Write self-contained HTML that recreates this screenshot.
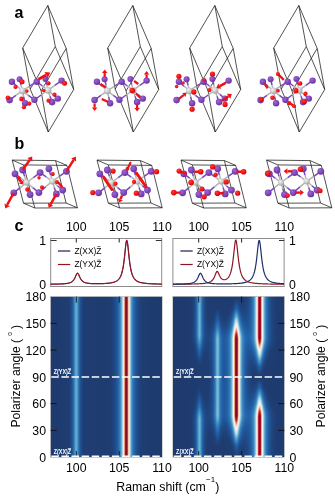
<!DOCTYPE html><html><head><meta charset="utf-8"><style>html,body{margin:0;padding:0;background:#fff;width:335px;height:504px;overflow:hidden}svg{display:block}text{font-family:'Liberation Sans',Arial,sans-serif}</style></head><body><svg width="335" height="504" viewBox="0 0 335 504"><defs><linearGradient id="hl" x1="0" x2="1" y1="0" y2="0"><stop offset="0.0045" stop-color="#1e3a6f"/><stop offset="0.1577" stop-color="#1e3d71"/><stop offset="0.1667" stop-color="#1e3e74"/><stop offset="0.1757" stop-color="#1f437b"/><stop offset="0.1847" stop-color="#1f4a86"/><stop offset="0.1937" stop-color="#205496"/><stop offset="0.2027" stop-color="#2465aa"/><stop offset="0.2117" stop-color="#357eb8"/><stop offset="0.2207" stop-color="#529cc8"/><stop offset="0.2297" stop-color="#6dadd1"/><stop offset="0.2387" stop-color="#559fc9"/><stop offset="0.2477" stop-color="#3680b9"/><stop offset="0.2568" stop-color="#2566ab"/><stop offset="0.2658" stop-color="#205698"/><stop offset="0.2748" stop-color="#1f4b87"/><stop offset="0.2838" stop-color="#1f447d"/><stop offset="0.2928" stop-color="#1e3f76"/><stop offset="0.3018" stop-color="#1e3d72"/><stop offset="0.4820" stop-color="#1e3c70"/><stop offset="0.5360" stop-color="#1e3d72"/><stop offset="0.5631" stop-color="#1f447d"/><stop offset="0.5811" stop-color="#1f4c89"/><stop offset="0.5991" stop-color="#205a9e"/><stop offset="0.6081" stop-color="#2464aa"/><stop offset="0.6171" stop-color="#2e73b2"/><stop offset="0.6261" stop-color="#3c88bd"/><stop offset="0.6351" stop-color="#62a7ce"/><stop offset="0.6441" stop-color="#a6cfe4"/><stop offset="0.6532" stop-color="#edf2f5"/><stop offset="0.6622" stop-color="#f6af8e"/><stop offset="0.6712" stop-color="#a9162a"/><stop offset="0.6802" stop-color="#7e0c24"/><stop offset="0.6892" stop-color="#ba2832"/><stop offset="0.6982" stop-color="#f9c5ab"/><stop offset="0.7072" stop-color="#e2edf3"/><stop offset="0.7162" stop-color="#99c9e0"/><stop offset="0.7252" stop-color="#57a0ca"/><stop offset="0.7342" stop-color="#3883bb"/><stop offset="0.7432" stop-color="#2b70b0"/><stop offset="0.7523" stop-color="#2262a9"/><stop offset="0.7703" stop-color="#205190"/><stop offset="0.7883" stop-color="#1f4781"/><stop offset="0.8153" stop-color="#1e3e74"/><stop offset="0.8964" stop-color="#1e3b70"/><stop offset="0.9955" stop-color="#1e3b6f"/></linearGradient><linearGradient id="r14" x1="0" x2="0" y1="0" y2="1"><stop offset="0.003" stop-color="#1e3b70"/><stop offset="0.997" stop-color="#1e3b70"/></linearGradient><linearGradient id="r15" x1="0" x2="0" y1="0" y2="1"><stop offset="0.003" stop-color="#1e3b70"/><stop offset="0.722" stop-color="#1e3c70"/><stop offset="0.997" stop-color="#1e3b70"/></linearGradient><linearGradient id="r16" x1="0" x2="0" y1="0" y2="1"><stop offset="0.003" stop-color="#1e3c70"/><stop offset="0.697" stop-color="#1e3c70"/><stop offset="0.997" stop-color="#1e3c70"/></linearGradient><linearGradient id="r17" x1="0" x2="0" y1="0" y2="1"><stop offset="0.003" stop-color="#1e3c71"/><stop offset="0.366" stop-color="#1e3b70"/><stop offset="0.734" stop-color="#1e3c71"/><stop offset="0.997" stop-color="#1e3c71"/></linearGradient><linearGradient id="r18" x1="0" x2="0" y1="0" y2="1"><stop offset="0.003" stop-color="#1e3d71"/><stop offset="0.278" stop-color="#1e3d72"/><stop offset="0.609" stop-color="#1e3b6f"/><stop offset="0.797" stop-color="#1e3d72"/><stop offset="0.997" stop-color="#1e3d71"/></linearGradient><linearGradient id="r19" x1="0" x2="0" y1="0" y2="1"><stop offset="0.003" stop-color="#1e3e74"/><stop offset="0.253" stop-color="#1e4077"/><stop offset="0.309" stop-color="#1e3c71"/><stop offset="0.616" stop-color="#1e3b70"/><stop offset="0.722" stop-color="#1e3e73"/><stop offset="0.772" stop-color="#1e4178"/><stop offset="0.997" stop-color="#1e3e74"/></linearGradient><linearGradient id="r20" x1="0" x2="0" y1="0" y2="1"><stop offset="0.003" stop-color="#1f437b"/><stop offset="0.247" stop-color="#1f467f"/><stop offset="0.322" stop-color="#1e3d72"/><stop offset="0.597" stop-color="#1e3b70"/><stop offset="0.697" stop-color="#1e3e73"/><stop offset="0.753" stop-color="#1f457f"/><stop offset="0.997" stop-color="#1f437b"/></linearGradient><linearGradient id="r21" x1="0" x2="0" y1="0" y2="1"><stop offset="0.003" stop-color="#1f4a86"/><stop offset="0.247" stop-color="#1f4d8a"/><stop offset="0.284" stop-color="#1f4680"/><stop offset="0.341" stop-color="#1e3d72"/><stop offset="0.578" stop-color="#1e3b70"/><stop offset="0.672" stop-color="#1e3e73"/><stop offset="0.753" stop-color="#1f4c89"/><stop offset="0.791" stop-color="#1f4d8a"/><stop offset="0.997" stop-color="#1f4a86"/></linearGradient><linearGradient id="r22" x1="0" x2="0" y1="0" y2="1"><stop offset="0.003" stop-color="#205597"/><stop offset="0.241" stop-color="#20589c"/><stop offset="0.272" stop-color="#205293"/><stop offset="0.334" stop-color="#1e427a"/><stop offset="0.372" stop-color="#1e3d72"/><stop offset="0.572" stop-color="#1e3b70"/><stop offset="0.641" stop-color="#1e3e73"/><stop offset="0.697" stop-color="#1f4984"/><stop offset="0.747" stop-color="#205698"/><stop offset="0.772" stop-color="#20589c"/><stop offset="0.997" stop-color="#205597"/></linearGradient><linearGradient id="r23" x1="0" x2="0" y1="0" y2="1"><stop offset="0.003" stop-color="#2566ab"/><stop offset="0.241" stop-color="#2769ad"/><stop offset="0.272" stop-color="#2261a8"/><stop offset="0.328" stop-color="#1f4b88"/><stop offset="0.391" stop-color="#1e3d72"/><stop offset="0.547" stop-color="#1e3b70"/><stop offset="0.616" stop-color="#1e3e73"/><stop offset="0.684" stop-color="#1f4e8c"/><stop offset="0.734" stop-color="#2262a9"/><stop offset="0.766" stop-color="#276aad"/><stop offset="0.997" stop-color="#2566ab"/></linearGradient><linearGradient id="r24" x1="0" x2="0" y1="0" y2="1"><stop offset="0.003" stop-color="#3680b9"/><stop offset="0.241" stop-color="#3983bb"/><stop offset="0.272" stop-color="#3077b4"/><stop offset="0.309" stop-color="#2160a8"/><stop offset="0.334" stop-color="#205597"/><stop offset="0.384" stop-color="#1f447d"/><stop offset="0.416" stop-color="#1e3d72"/><stop offset="0.541" stop-color="#1e3c70"/><stop offset="0.591" stop-color="#1e3d72"/><stop offset="0.641" stop-color="#1f4b87"/><stop offset="0.684" stop-color="#215ba0"/><stop offset="0.697" stop-color="#2262a9"/><stop offset="0.741" stop-color="#337bb7"/><stop offset="0.766" stop-color="#3984bb"/><stop offset="0.997" stop-color="#3680b9"/></linearGradient><linearGradient id="r25" x1="0" x2="0" y1="0" y2="1"><stop offset="0.003" stop-color="#559ec9"/><stop offset="0.222" stop-color="#5ba2cb"/><stop offset="0.241" stop-color="#5ba2cb"/><stop offset="0.272" stop-color="#4291c2"/><stop offset="0.309" stop-color="#2d72b1"/><stop offset="0.334" stop-color="#2262a9"/><stop offset="0.384" stop-color="#1f4b87"/><stop offset="0.422" stop-color="#1e3e73"/><stop offset="0.522" stop-color="#1e3c70"/><stop offset="0.578" stop-color="#1e3d72"/><stop offset="0.634" stop-color="#205191"/><stop offset="0.666" stop-color="#2160a8"/><stop offset="0.691" stop-color="#2b6fb0"/><stop offset="0.728" stop-color="#408ec0"/><stop offset="0.741" stop-color="#4a97c5"/><stop offset="0.766" stop-color="#5ca3cb"/><stop offset="0.972" stop-color="#559ec9"/><stop offset="0.997" stop-color="#559ec9"/></linearGradient><linearGradient id="r26" x1="0" x2="0" y1="0" y2="1"><stop offset="0.003" stop-color="#6cadd1"/><stop offset="0.216" stop-color="#72b1d3"/><stop offset="0.241" stop-color="#73b1d3"/><stop offset="0.266" stop-color="#5ca3cc"/><stop offset="0.284" stop-color="#4291c2"/><stop offset="0.328" stop-color="#296cae"/><stop offset="0.353" stop-color="#215ea5"/><stop offset="0.378" stop-color="#205191"/><stop offset="0.422" stop-color="#1e3f76"/><stop offset="0.447" stop-color="#1e3d72"/><stop offset="0.528" stop-color="#1e3c70"/><stop offset="0.578" stop-color="#1e3e74"/><stop offset="0.634" stop-color="#205598"/><stop offset="0.653" stop-color="#2160a8"/><stop offset="0.684" stop-color="#2d73b2"/><stop offset="0.722" stop-color="#4594c4"/><stop offset="0.734" stop-color="#59a1ca"/><stop offset="0.759" stop-color="#70afd2"/><stop offset="0.766" stop-color="#73b2d4"/><stop offset="0.966" stop-color="#6cadd1"/><stop offset="0.997" stop-color="#6cadd1"/></linearGradient><linearGradient id="r27" x1="0" x2="0" y1="0" y2="1"><stop offset="0.003" stop-color="#519cc8"/><stop offset="0.209" stop-color="#57a0ca"/><stop offset="0.241" stop-color="#58a0ca"/><stop offset="0.272" stop-color="#4190c1"/><stop offset="0.309" stop-color="#2c71b1"/><stop offset="0.334" stop-color="#2262a9"/><stop offset="0.384" stop-color="#1f4b88"/><stop offset="0.428" stop-color="#1e3d72"/><stop offset="0.534" stop-color="#1e3c71"/><stop offset="0.578" stop-color="#1e3d73"/><stop offset="0.634" stop-color="#205191"/><stop offset="0.666" stop-color="#2160a8"/><stop offset="0.691" stop-color="#2b6fb0"/><stop offset="0.728" stop-color="#3f8dc0"/><stop offset="0.747" stop-color="#4d99c6"/><stop offset="0.766" stop-color="#59a1ca"/><stop offset="0.959" stop-color="#519cc8"/><stop offset="0.997" stop-color="#519cc8"/></linearGradient><linearGradient id="r28" x1="0" x2="0" y1="0" y2="1"><stop offset="0.003" stop-color="#347db7"/><stop offset="0.241" stop-color="#3882ba"/><stop offset="0.272" stop-color="#3076b4"/><stop offset="0.309" stop-color="#2160a8"/><stop offset="0.334" stop-color="#205598"/><stop offset="0.384" stop-color="#1f457f"/><stop offset="0.422" stop-color="#1e3d72"/><stop offset="0.553" stop-color="#1e3c71"/><stop offset="0.591" stop-color="#1e3e74"/><stop offset="0.641" stop-color="#1f4c89"/><stop offset="0.684" stop-color="#215ca1"/><stop offset="0.697" stop-color="#2262a9"/><stop offset="0.741" stop-color="#337bb6"/><stop offset="0.766" stop-color="#3883ba"/><stop offset="0.997" stop-color="#347db7"/></linearGradient><linearGradient id="r29" x1="0" x2="0" y1="0" y2="1"><stop offset="0.003" stop-color="#2464aa"/><stop offset="0.228" stop-color="#286aad"/><stop offset="0.247" stop-color="#2769ad"/><stop offset="0.278" stop-color="#215fa7"/><stop offset="0.328" stop-color="#1f4d8b"/><stop offset="0.397" stop-color="#1e3e74"/><stop offset="0.441" stop-color="#1e3c71"/><stop offset="0.597" stop-color="#1e3d72"/><stop offset="0.653" stop-color="#1f4883"/><stop offset="0.691" stop-color="#205293"/><stop offset="0.728" stop-color="#2261a8"/><stop offset="0.766" stop-color="#286aad"/><stop offset="0.991" stop-color="#2464aa"/><stop offset="0.997" stop-color="#2464aa"/></linearGradient><linearGradient id="r30" x1="0" x2="0" y1="0" y2="1"><stop offset="0.003" stop-color="#205495"/><stop offset="0.184" stop-color="#20589b"/><stop offset="0.241" stop-color="#215ba0"/><stop offset="0.272" stop-color="#205598"/><stop offset="0.334" stop-color="#1f467f"/><stop offset="0.391" stop-color="#1e3d72"/><stop offset="0.584" stop-color="#1e3c71"/><stop offset="0.628" stop-color="#1e3f75"/><stop offset="0.691" stop-color="#1f4a86"/><stop offset="0.741" stop-color="#20589b"/><stop offset="0.772" stop-color="#215a9f"/><stop offset="0.934" stop-color="#205496"/><stop offset="0.997" stop-color="#205495"/></linearGradient><linearGradient id="r31" x1="0" x2="0" y1="0" y2="1"><stop offset="0.003" stop-color="#1f4a85"/><stop offset="0.178" stop-color="#1f4e8c"/><stop offset="0.247" stop-color="#205190"/><stop offset="0.278" stop-color="#1f4c8a"/><stop offset="0.341" stop-color="#1e4179"/><stop offset="0.391" stop-color="#1e3d72"/><stop offset="0.616" stop-color="#1e3d72"/><stop offset="0.684" stop-color="#1f447d"/><stop offset="0.747" stop-color="#20508f"/><stop offset="0.772" stop-color="#205190"/><stop offset="0.922" stop-color="#1f4a87"/><stop offset="0.997" stop-color="#1f4a85"/></linearGradient><linearGradient id="r32" x1="0" x2="0" y1="0" y2="1"><stop offset="0.003" stop-color="#1f437b"/><stop offset="0.159" stop-color="#1f4781"/><stop offset="0.247" stop-color="#1f4b88"/><stop offset="0.284" stop-color="#1f4781"/><stop offset="0.359" stop-color="#1e3e74"/><stop offset="0.528" stop-color="#1e3c71"/><stop offset="0.641" stop-color="#1e3e73"/><stop offset="0.716" stop-color="#1f4681"/><stop offset="0.753" stop-color="#1f4b87"/><stop offset="0.809" stop-color="#1f4883"/><stop offset="0.966" stop-color="#1f437c"/><stop offset="0.997" stop-color="#1f437b"/></linearGradient><linearGradient id="r33" x1="0" x2="0" y1="0" y2="1"><stop offset="0.003" stop-color="#1e3e74"/><stop offset="0.147" stop-color="#1e427a"/><stop offset="0.247" stop-color="#1f4883"/><stop offset="0.284" stop-color="#1f457e"/><stop offset="0.372" stop-color="#1e3d72"/><stop offset="0.634" stop-color="#1e3d72"/><stop offset="0.728" stop-color="#1f4680"/><stop offset="0.772" stop-color="#1f4882"/><stop offset="0.891" stop-color="#1e4177"/><stop offset="0.997" stop-color="#1e3e74"/></linearGradient><linearGradient id="r34" x1="0" x2="0" y1="0" y2="1"><stop offset="0.003" stop-color="#1e3d72"/><stop offset="0.128" stop-color="#1e3e74"/><stop offset="0.253" stop-color="#1f4680"/><stop offset="0.391" stop-color="#1e3d72"/><stop offset="0.628" stop-color="#1e3e73"/><stop offset="0.753" stop-color="#1f4680"/><stop offset="0.903" stop-color="#1e3d72"/><stop offset="0.997" stop-color="#1e3d72"/></linearGradient><linearGradient id="r35" x1="0" x2="0" y1="0" y2="1"><stop offset="0.003" stop-color="#1e3c71"/><stop offset="0.153" stop-color="#1e3e74"/><stop offset="0.253" stop-color="#1f4680"/><stop offset="0.422" stop-color="#1e3e73"/><stop offset="0.597" stop-color="#1e3e74"/><stop offset="0.722" stop-color="#1f457e"/><stop offset="0.759" stop-color="#1f4680"/><stop offset="0.872" stop-color="#1e3d72"/><stop offset="0.997" stop-color="#1e3c71"/></linearGradient><linearGradient id="r36" x1="0" x2="0" y1="0" y2="1"><stop offset="0.003" stop-color="#1e3c71"/><stop offset="0.159" stop-color="#1e3e74"/><stop offset="0.253" stop-color="#1f4782"/><stop offset="0.441" stop-color="#1e4076"/><stop offset="0.597" stop-color="#1e4077"/><stop offset="0.747" stop-color="#1f4782"/><stop offset="0.803" stop-color="#1e4279"/><stop offset="0.872" stop-color="#1e3d72"/><stop offset="0.997" stop-color="#1e3c71"/></linearGradient><linearGradient id="r37" x1="0" x2="0" y1="0" y2="1"><stop offset="0.003" stop-color="#1e3c70"/><stop offset="0.159" stop-color="#1e3e74"/><stop offset="0.253" stop-color="#1f4a85"/><stop offset="0.453" stop-color="#1f437b"/><stop offset="0.628" stop-color="#1f457e"/><stop offset="0.747" stop-color="#1f4a86"/><stop offset="0.791" stop-color="#1f457e"/><stop offset="0.859" stop-color="#1e3d72"/><stop offset="0.997" stop-color="#1e3c70"/></linearGradient><linearGradient id="r38" x1="0" x2="0" y1="0" y2="1"><stop offset="0.003" stop-color="#1e3b70"/><stop offset="0.147" stop-color="#1e3e73"/><stop offset="0.209" stop-color="#1f4781"/><stop offset="0.247" stop-color="#1f4d8b"/><stop offset="0.278" stop-color="#1f4e8c"/><stop offset="0.447" stop-color="#1f4883"/><stop offset="0.634" stop-color="#1f4a86"/><stop offset="0.747" stop-color="#1f4e8c"/><stop offset="0.784" stop-color="#1f4884"/><stop offset="0.847" stop-color="#1e3f75"/><stop offset="0.891" stop-color="#1e3c71"/><stop offset="0.997" stop-color="#1e3b70"/></linearGradient><linearGradient id="r39" x1="0" x2="0" y1="0" y2="1"><stop offset="0.003" stop-color="#1e3b70"/><stop offset="0.134" stop-color="#1e3e73"/><stop offset="0.197" stop-color="#1f4883"/><stop offset="0.241" stop-color="#205293"/><stop offset="0.266" stop-color="#205597"/><stop offset="0.447" stop-color="#204f8e"/><stop offset="0.641" stop-color="#205191"/><stop offset="0.747" stop-color="#205496"/><stop offset="0.778" stop-color="#204f8d"/><stop offset="0.834" stop-color="#1e437b"/><stop offset="0.878" stop-color="#1e3d72"/><stop offset="0.997" stop-color="#1e3b70"/></linearGradient><linearGradient id="r40" x1="0" x2="0" y1="0" y2="1"><stop offset="0.003" stop-color="#1e3b70"/><stop offset="0.116" stop-color="#1e3d72"/><stop offset="0.184" stop-color="#1f4a87"/><stop offset="0.241" stop-color="#215ca1"/><stop offset="0.266" stop-color="#215fa7"/><stop offset="0.459" stop-color="#215a9f"/><stop offset="0.659" stop-color="#215ca2"/><stop offset="0.741" stop-color="#215fa7"/><stop offset="0.772" stop-color="#20599e"/><stop offset="0.828" stop-color="#1f4883"/><stop offset="0.891" stop-color="#1e3d72"/><stop offset="0.997" stop-color="#1e3b70"/></linearGradient><linearGradient id="r41" x1="0" x2="0" y1="0" y2="1"><stop offset="0.003" stop-color="#1e3b70"/><stop offset="0.103" stop-color="#1e3e73"/><stop offset="0.153" stop-color="#1f4985"/><stop offset="0.184" stop-color="#205393"/><stop offset="0.216" stop-color="#2160a7"/><stop offset="0.241" stop-color="#286bae"/><stop offset="0.266" stop-color="#2c70b1"/><stop offset="0.516" stop-color="#296bae"/><stop offset="0.741" stop-color="#2c70b1"/><stop offset="0.778" stop-color="#2464aa"/><stop offset="0.797" stop-color="#215ba1"/><stop offset="0.834" stop-color="#1f4e8c"/><stop offset="0.897" stop-color="#1e3e74"/><stop offset="0.941" stop-color="#1e3c71"/><stop offset="0.997" stop-color="#1e3b70"/></linearGradient><linearGradient id="r42" x1="0" x2="0" y1="0" y2="1"><stop offset="0.003" stop-color="#1e3b6f"/><stop offset="0.084" stop-color="#1e3d72"/><stop offset="0.134" stop-color="#1f4b88"/><stop offset="0.178" stop-color="#215ca1"/><stop offset="0.191" stop-color="#2363aa"/><stop offset="0.241" stop-color="#3782ba"/><stop offset="0.266" stop-color="#3d8abe"/><stop offset="0.528" stop-color="#3a85bc"/><stop offset="0.741" stop-color="#3d8abe"/><stop offset="0.772" stop-color="#347db7"/><stop offset="0.816" stop-color="#2261a9"/><stop offset="0.878" stop-color="#1f4883"/><stop offset="0.922" stop-color="#1e3d72"/><stop offset="0.997" stop-color="#1e3b70"/></linearGradient><linearGradient id="r43" x1="0" x2="0" y1="0" y2="1"><stop offset="0.003" stop-color="#1e3b6f"/><stop offset="0.078" stop-color="#1e3d73"/><stop offset="0.134" stop-color="#205395"/><stop offset="0.159" stop-color="#2160a8"/><stop offset="0.184" stop-color="#2b6fb0"/><stop offset="0.222" stop-color="#408fc1"/><stop offset="0.228" stop-color="#4695c4"/><stop offset="0.234" stop-color="#4f9ac7"/><stop offset="0.259" stop-color="#64a8ce"/><stop offset="0.272" stop-color="#66a9cf"/><stop offset="0.484" stop-color="#5fa5cd"/><stop offset="0.697" stop-color="#64a8ce"/><stop offset="0.741" stop-color="#66a9cf"/><stop offset="0.766" stop-color="#519cc8"/><stop offset="0.778" stop-color="#4292c2"/><stop offset="0.816" stop-color="#2d72b1"/><stop offset="0.847" stop-color="#215fa6"/><stop offset="0.884" stop-color="#1f4d8a"/><stop offset="0.928" stop-color="#1e3d72"/><stop offset="0.997" stop-color="#1e3b70"/></linearGradient><linearGradient id="r44" x1="0" x2="0" y1="0" y2="1"><stop offset="0.003" stop-color="#1e3b6f"/><stop offset="0.072" stop-color="#1e3e73"/><stop offset="0.084" stop-color="#1e4279"/><stop offset="0.134" stop-color="#20589c"/><stop offset="0.147" stop-color="#2160a7"/><stop offset="0.178" stop-color="#2d72b2"/><stop offset="0.209" stop-color="#408fc1"/><stop offset="0.216" stop-color="#4795c4"/><stop offset="0.234" stop-color="#67aacf"/><stop offset="0.259" stop-color="#7fb9d8"/><stop offset="0.272" stop-color="#81bad8"/><stop offset="0.491" stop-color="#7bb6d6"/><stop offset="0.709" stop-color="#80bad8"/><stop offset="0.741" stop-color="#82bbd8"/><stop offset="0.766" stop-color="#6aacd0"/><stop offset="0.778" stop-color="#579fca"/><stop offset="0.791" stop-color="#4292c2"/><stop offset="0.828" stop-color="#2c71b1"/><stop offset="0.853" stop-color="#2261a9"/><stop offset="0.891" stop-color="#1f4e8c"/><stop offset="0.928" stop-color="#1e3e74"/><stop offset="0.997" stop-color="#1e3b70"/></linearGradient><linearGradient id="r45" x1="0" x2="0" y1="0" y2="1"><stop offset="0.003" stop-color="#1e3b6f"/><stop offset="0.078" stop-color="#1e3d73"/><stop offset="0.134" stop-color="#205496"/><stop offset="0.159" stop-color="#2261a9"/><stop offset="0.184" stop-color="#2c70b1"/><stop offset="0.222" stop-color="#4291c2"/><stop offset="0.234" stop-color="#539dc8"/><stop offset="0.259" stop-color="#69abd0"/><stop offset="0.272" stop-color="#6aacd0"/><stop offset="0.497" stop-color="#64a8ce"/><stop offset="0.716" stop-color="#6aabd0"/><stop offset="0.741" stop-color="#6bacd1"/><stop offset="0.766" stop-color="#559fc9"/><stop offset="0.778" stop-color="#4494c3"/><stop offset="0.809" stop-color="#3178b5"/><stop offset="0.834" stop-color="#2566ab"/><stop offset="0.847" stop-color="#2160a7"/><stop offset="0.884" stop-color="#1f4d8b"/><stop offset="0.928" stop-color="#1e3d72"/><stop offset="0.997" stop-color="#1e3b6f"/></linearGradient><linearGradient id="r46" x1="0" x2="0" y1="0" y2="1"><stop offset="0.003" stop-color="#1e3b6f"/><stop offset="0.084" stop-color="#1e3d72"/><stop offset="0.134" stop-color="#1f4c89"/><stop offset="0.184" stop-color="#2261a9"/><stop offset="0.228" stop-color="#357fb8"/><stop offset="0.253" stop-color="#3e8bbf"/><stop offset="0.272" stop-color="#408fc1"/><stop offset="0.553" stop-color="#3e8bbf"/><stop offset="0.741" stop-color="#408fc1"/><stop offset="0.772" stop-color="#3781ba"/><stop offset="0.816" stop-color="#2363aa"/><stop offset="0.834" stop-color="#205a9e"/><stop offset="0.884" stop-color="#1f4781"/><stop offset="0.922" stop-color="#1e3d72"/><stop offset="0.997" stop-color="#1e3b6f"/></linearGradient><linearGradient id="r47" x1="0" x2="0" y1="0" y2="1"><stop offset="0.003" stop-color="#1e3b6f"/><stop offset="0.097" stop-color="#1e3d72"/><stop offset="0.141" stop-color="#1f4782"/><stop offset="0.184" stop-color="#205598"/><stop offset="0.209" stop-color="#2161a8"/><stop offset="0.241" stop-color="#2c70b1"/><stop offset="0.266" stop-color="#3077b4"/><stop offset="0.547" stop-color="#2e73b2"/><stop offset="0.741" stop-color="#3077b4"/><stop offset="0.772" stop-color="#296daf"/><stop offset="0.797" stop-color="#215fa7"/><stop offset="0.834" stop-color="#20508f"/><stop offset="0.891" stop-color="#1e4077"/><stop offset="0.909" stop-color="#1e3d72"/><stop offset="0.997" stop-color="#1e3b6f"/></linearGradient><linearGradient id="r48" x1="0" x2="0" y1="0" y2="1"><stop offset="0.003" stop-color="#1e3b6f"/><stop offset="0.116" stop-color="#1e3e73"/><stop offset="0.184" stop-color="#1f4e8c"/><stop offset="0.234" stop-color="#2261a9"/><stop offset="0.266" stop-color="#2668ac"/><stop offset="0.553" stop-color="#2464aa"/><stop offset="0.747" stop-color="#2667ac"/><stop offset="0.772" stop-color="#2160a8"/><stop offset="0.822" stop-color="#1f4d8a"/><stop offset="0.891" stop-color="#1e3d72"/><stop offset="0.997" stop-color="#1e3b6f"/></linearGradient><linearGradient id="r49" x1="0" x2="0" y1="0" y2="1"><stop offset="0.003" stop-color="#1e3b6f"/><stop offset="0.128" stop-color="#1e3e73"/><stop offset="0.184" stop-color="#1f4a85"/><stop offset="0.241" stop-color="#215ba1"/><stop offset="0.266" stop-color="#2160a7"/><stop offset="0.497" stop-color="#215ca1"/><stop offset="0.728" stop-color="#215fa7"/><stop offset="0.747" stop-color="#215fa6"/><stop offset="0.778" stop-color="#20579a"/><stop offset="0.834" stop-color="#1f4680"/><stop offset="0.884" stop-color="#1e3d72"/><stop offset="0.997" stop-color="#1e3b6f"/></linearGradient><linearGradient id="r50" x1="0" x2="0" y1="0" y2="1"><stop offset="0.003" stop-color="#1e3b6f"/><stop offset="0.134" stop-color="#1e3e73"/><stop offset="0.191" stop-color="#1f4985"/><stop offset="0.241" stop-color="#20589b"/><stop offset="0.266" stop-color="#215ca1"/><stop offset="0.497" stop-color="#20589b"/><stop offset="0.728" stop-color="#215ba1"/><stop offset="0.747" stop-color="#215ba0"/><stop offset="0.778" stop-color="#205395"/><stop offset="0.834" stop-color="#1f447d"/><stop offset="0.878" stop-color="#1e3d72"/><stop offset="0.997" stop-color="#1e3b6f"/></linearGradient><linearGradient id="r51" x1="0" x2="0" y1="0" y2="1"><stop offset="0.003" stop-color="#1e3b6f"/><stop offset="0.134" stop-color="#1e3e73"/><stop offset="0.191" stop-color="#1f4984"/><stop offset="0.241" stop-color="#20579a"/><stop offset="0.266" stop-color="#215ba0"/><stop offset="0.497" stop-color="#20579a"/><stop offset="0.722" stop-color="#215a9f"/><stop offset="0.747" stop-color="#205a9e"/><stop offset="0.778" stop-color="#205393"/><stop offset="0.834" stop-color="#1f447c"/><stop offset="0.878" stop-color="#1e3d72"/><stop offset="0.997" stop-color="#1e3b6f"/></linearGradient><linearGradient id="r52" x1="0" x2="0" y1="0" y2="1"><stop offset="0.003" stop-color="#1e3b6f"/><stop offset="0.128" stop-color="#1e3d72"/><stop offset="0.191" stop-color="#1f4a85"/><stop offset="0.241" stop-color="#20589c"/><stop offset="0.266" stop-color="#215ca2"/><stop offset="0.497" stop-color="#20589c"/><stop offset="0.716" stop-color="#215ba1"/><stop offset="0.747" stop-color="#215ba1"/><stop offset="0.778" stop-color="#205495"/><stop offset="0.834" stop-color="#1f447d"/><stop offset="0.878" stop-color="#1e3d72"/><stop offset="0.997" stop-color="#1e3b6f"/></linearGradient><linearGradient id="r53" x1="0" x2="0" y1="0" y2="1"><stop offset="0.003" stop-color="#1e3b6f"/><stop offset="0.128" stop-color="#1e3e73"/><stop offset="0.184" stop-color="#1f4a86"/><stop offset="0.241" stop-color="#215ca1"/><stop offset="0.266" stop-color="#2160a8"/><stop offset="0.491" stop-color="#215ca1"/><stop offset="0.709" stop-color="#215fa6"/><stop offset="0.741" stop-color="#2160a8"/><stop offset="0.772" stop-color="#20599d"/><stop offset="0.828" stop-color="#1f4782"/><stop offset="0.884" stop-color="#1e3d72"/><stop offset="0.997" stop-color="#1e3b6f"/></linearGradient><linearGradient id="r54" x1="0" x2="0" y1="0" y2="1"><stop offset="0.003" stop-color="#1e3b6f"/><stop offset="0.116" stop-color="#1e3d73"/><stop offset="0.184" stop-color="#1f4d8b"/><stop offset="0.234" stop-color="#2160a7"/><stop offset="0.266" stop-color="#2566ab"/><stop offset="0.541" stop-color="#2262a9"/><stop offset="0.747" stop-color="#2465ab"/><stop offset="0.772" stop-color="#215ea5"/><stop offset="0.822" stop-color="#1f4c89"/><stop offset="0.891" stop-color="#1e3d72"/><stop offset="0.997" stop-color="#1e3b6f"/></linearGradient><linearGradient id="r55" x1="0" x2="0" y1="0" y2="1"><stop offset="0.003" stop-color="#1e3b6f"/><stop offset="0.103" stop-color="#1e3d72"/><stop offset="0.153" stop-color="#1f4984"/><stop offset="0.184" stop-color="#205292"/><stop offset="0.222" stop-color="#2262a9"/><stop offset="0.247" stop-color="#296cae"/><stop offset="0.266" stop-color="#2b70b0"/><stop offset="0.534" stop-color="#286bae"/><stop offset="0.741" stop-color="#2b70b0"/><stop offset="0.778" stop-color="#2363aa"/><stop offset="0.791" stop-color="#215da4"/><stop offset="0.834" stop-color="#1f4d8a"/><stop offset="0.897" stop-color="#1e3e73"/><stop offset="0.997" stop-color="#1e3b6f"/></linearGradient><linearGradient id="r56" x1="0" x2="0" y1="0" y2="1"><stop offset="0.003" stop-color="#1e3b6f"/><stop offset="0.091" stop-color="#1e3d72"/><stop offset="0.141" stop-color="#1f4a86"/><stop offset="0.184" stop-color="#20599d"/><stop offset="0.203" stop-color="#2262a9"/><stop offset="0.241" stop-color="#3077b4"/><stop offset="0.266" stop-color="#357eb8"/><stop offset="0.528" stop-color="#3279b5"/><stop offset="0.741" stop-color="#357eb8"/><stop offset="0.772" stop-color="#2d72b2"/><stop offset="0.803" stop-color="#2161a8"/><stop offset="0.834" stop-color="#205394"/><stop offset="0.891" stop-color="#1e427a"/><stop offset="0.916" stop-color="#1e3d72"/><stop offset="0.997" stop-color="#1e3b6f"/></linearGradient><linearGradient id="r57" x1="0" x2="0" y1="0" y2="1"><stop offset="0.003" stop-color="#1e3b6f"/><stop offset="0.084" stop-color="#1e3e73"/><stop offset="0.134" stop-color="#1f4d8b"/><stop offset="0.178" stop-color="#2160a7"/><stop offset="0.228" stop-color="#3782ba"/><stop offset="0.253" stop-color="#408fc1"/><stop offset="0.266" stop-color="#4393c3"/><stop offset="0.522" stop-color="#3f8ec0"/><stop offset="0.741" stop-color="#4393c3"/><stop offset="0.772" stop-color="#3984bb"/><stop offset="0.809" stop-color="#276aad"/><stop offset="0.828" stop-color="#215ea5"/><stop offset="0.884" stop-color="#1f4883"/><stop offset="0.922" stop-color="#1e3d72"/><stop offset="0.997" stop-color="#1e3b70"/></linearGradient><linearGradient id="r58" x1="0" x2="0" y1="0" y2="1"><stop offset="0.003" stop-color="#1e3b70"/><stop offset="0.072" stop-color="#1e3e73"/><stop offset="0.084" stop-color="#1e4179"/><stop offset="0.134" stop-color="#205699"/><stop offset="0.153" stop-color="#2160a8"/><stop offset="0.184" stop-color="#2e74b2"/><stop offset="0.216" stop-color="#408fc1"/><stop offset="0.222" stop-color="#4695c4"/><stop offset="0.234" stop-color="#5aa2cb"/><stop offset="0.259" stop-color="#71b0d3"/><stop offset="0.272" stop-color="#73b1d3"/><stop offset="0.466" stop-color="#6bacd1"/><stop offset="0.666" stop-color="#6fafd2"/><stop offset="0.741" stop-color="#73b1d3"/><stop offset="0.766" stop-color="#5da3cc"/><stop offset="0.784" stop-color="#4292c2"/><stop offset="0.828" stop-color="#296daf"/><stop offset="0.853" stop-color="#215fa6"/><stop offset="0.884" stop-color="#204f8e"/><stop offset="0.928" stop-color="#1e3e74"/><stop offset="0.997" stop-color="#1e3b70"/></linearGradient><linearGradient id="r59" x1="0" x2="0" y1="0" y2="1"><stop offset="0.003" stop-color="#1e3b70"/><stop offset="0.053" stop-color="#1e3e74"/><stop offset="0.078" stop-color="#1f437c"/><stop offset="0.128" stop-color="#215fa6"/><stop offset="0.178" stop-color="#3a85bc"/><stop offset="0.191" stop-color="#4494c3"/><stop offset="0.216" stop-color="#72b1d3"/><stop offset="0.228" stop-color="#8ec2dd"/><stop offset="0.234" stop-color="#99c9e0"/><stop offset="0.259" stop-color="#b2d5e7"/><stop offset="0.272" stop-color="#b5d7e8"/><stop offset="0.484" stop-color="#aed3e6"/><stop offset="0.697" stop-color="#b3d6e7"/><stop offset="0.741" stop-color="#b5d7e8"/><stop offset="0.766" stop-color="#9ccae1"/><stop offset="0.772" stop-color="#94c6df"/><stop offset="0.791" stop-color="#6badd1"/><stop offset="0.809" stop-color="#4a97c5"/><stop offset="0.816" stop-color="#4190c1"/><stop offset="0.834" stop-color="#357eb8"/><stop offset="0.872" stop-color="#2261a9"/><stop offset="0.928" stop-color="#1e437b"/><stop offset="0.966" stop-color="#1e3d72"/><stop offset="0.997" stop-color="#1e3b70"/></linearGradient><linearGradient id="r60" x1="0" x2="0" y1="0" y2="1"><stop offset="0.003" stop-color="#1e3b70"/><stop offset="0.034" stop-color="#1e3e73"/><stop offset="0.078" stop-color="#1f4a86"/><stop offset="0.103" stop-color="#215ea5"/><stop offset="0.122" stop-color="#296daf"/><stop offset="0.153" stop-color="#3f8dc0"/><stop offset="0.159" stop-color="#4494c3"/><stop offset="0.178" stop-color="#64a8ce"/><stop offset="0.197" stop-color="#93c6de"/><stop offset="0.216" stop-color="#bbdaea"/><stop offset="0.222" stop-color="#cbe2ee"/><stop offset="0.234" stop-color="#e0ecf3"/><stop offset="0.259" stop-color="#f5f6f7"/><stop offset="0.291" stop-color="#f7f7f7"/><stop offset="0.553" stop-color="#f3f5f6"/><stop offset="0.741" stop-color="#f7f7f6"/><stop offset="0.766" stop-color="#e2edf3"/><stop offset="0.778" stop-color="#d2e5f0"/><stop offset="0.791" stop-color="#b3d6e8"/><stop offset="0.809" stop-color="#8cc1dc"/><stop offset="0.822" stop-color="#6cadd1"/><stop offset="0.834" stop-color="#549ec9"/><stop offset="0.847" stop-color="#4190c2"/><stop offset="0.878" stop-color="#2b6fb0"/><stop offset="0.897" stop-color="#2160a8"/><stop offset="0.922" stop-color="#1f4d8a"/><stop offset="0.934" stop-color="#1f4882"/><stop offset="0.972" stop-color="#1e3d72"/><stop offset="0.997" stop-color="#1e3c70"/></linearGradient><linearGradient id="r61" x1="0" x2="0" y1="0" y2="1"><stop offset="0.003" stop-color="#1e3c70"/><stop offset="0.022" stop-color="#1e3d73"/><stop offset="0.078" stop-color="#205496"/><stop offset="0.091" stop-color="#2262a9"/><stop offset="0.128" stop-color="#3f8dc0"/><stop offset="0.134" stop-color="#4997c5"/><stop offset="0.166" stop-color="#94c6df"/><stop offset="0.178" stop-color="#acd2e5"/><stop offset="0.191" stop-color="#d0e5f0"/><stop offset="0.209" stop-color="#f1f4f6"/><stop offset="0.216" stop-color="#f8f2ee"/><stop offset="0.228" stop-color="#fcdecd"/><stop offset="0.234" stop-color="#fbcfb7"/><stop offset="0.259" stop-color="#f3a280"/><stop offset="0.266" stop-color="#f09d7c"/><stop offset="0.459" stop-color="#f4a582"/><stop offset="0.653" stop-color="#f2a17f"/><stop offset="0.741" stop-color="#f09c7b"/><stop offset="0.747" stop-color="#f5a886"/><stop offset="0.766" stop-color="#fac9b0"/><stop offset="0.772" stop-color="#fcd8c3"/><stop offset="0.791" stop-color="#f7f7f7"/><stop offset="0.809" stop-color="#d6e7f1"/><stop offset="0.816" stop-color="#c7e0ed"/><stop offset="0.822" stop-color="#b5d7e8"/><stop offset="0.834" stop-color="#9ac9e0"/><stop offset="0.847" stop-color="#7eb8d7"/><stop offset="0.872" stop-color="#4292c2"/><stop offset="0.916" stop-color="#215fa6"/><stop offset="0.922" stop-color="#20589b"/><stop offset="0.928" stop-color="#205394"/><stop offset="0.984" stop-color="#1e3d72"/><stop offset="0.997" stop-color="#1e3c70"/></linearGradient><linearGradient id="r62" x1="0" x2="0" y1="0" y2="1"><stop offset="0.003" stop-color="#1e3c70"/><stop offset="0.016" stop-color="#1e3d73"/><stop offset="0.078" stop-color="#215fa7"/><stop offset="0.109" stop-color="#408fc1"/><stop offset="0.116" stop-color="#4b98c6"/><stop offset="0.128" stop-color="#68aad0"/><stop offset="0.141" stop-color="#90c4dd"/><stop offset="0.166" stop-color="#d1e5f0"/><stop offset="0.178" stop-color="#e5eef4"/><stop offset="0.184" stop-color="#f3f5f6"/><stop offset="0.191" stop-color="#f9efea"/><stop offset="0.203" stop-color="#fdd9c4"/><stop offset="0.209" stop-color="#f9c4aa"/><stop offset="0.216" stop-color="#f5ac8b"/><stop offset="0.228" stop-color="#dc6d57"/><stop offset="0.234" stop-color="#cc4d44"/><stop offset="0.247" stop-color="#b92631"/><stop offset="0.253" stop-color="#ae172a"/><stop offset="0.259" stop-color="#a01429"/><stop offset="0.266" stop-color="#9a1228"/><stop offset="0.484" stop-color="#a11429"/><stop offset="0.697" stop-color="#9c1328"/><stop offset="0.741" stop-color="#9a1228"/><stop offset="0.747" stop-color="#a71529"/><stop offset="0.753" stop-color="#b41c2d"/><stop offset="0.766" stop-color="#c8433f"/><stop offset="0.772" stop-color="#d55d4c"/><stop offset="0.784" stop-color="#f19e7d"/><stop offset="0.791" stop-color="#f7b99c"/><stop offset="0.797" stop-color="#fbceb7"/><stop offset="0.803" stop-color="#fcdfce"/><stop offset="0.816" stop-color="#f8f5f3"/><stop offset="0.822" stop-color="#ecf2f5"/><stop offset="0.841" stop-color="#c9e1ee"/><stop offset="0.859" stop-color="#99c8e0"/><stop offset="0.878" stop-color="#61a6cd"/><stop offset="0.891" stop-color="#4393c3"/><stop offset="0.922" stop-color="#2464aa"/><stop offset="0.928" stop-color="#215da4"/><stop offset="0.991" stop-color="#1e3d72"/><stop offset="0.997" stop-color="#1e3c71"/></linearGradient><linearGradient id="r63" x1="0" x2="0" y1="0" y2="1"><stop offset="0.003" stop-color="#1e3c70"/><stop offset="0.016" stop-color="#1e3f75"/><stop offset="0.072" stop-color="#2160a8"/><stop offset="0.078" stop-color="#2364aa"/><stop offset="0.103" stop-color="#3f8dc0"/><stop offset="0.109" stop-color="#4a98c5"/><stop offset="0.128" stop-color="#7bb6d6"/><stop offset="0.134" stop-color="#91c4de"/><stop offset="0.153" stop-color="#c6dfed"/><stop offset="0.159" stop-color="#d5e7f1"/><stop offset="0.178" stop-color="#f5f6f7"/><stop offset="0.184" stop-color="#f9ede6"/><stop offset="0.191" stop-color="#fce1d2"/><stop offset="0.197" stop-color="#fbd0b9"/><stop offset="0.209" stop-color="#f3a280"/><stop offset="0.222" stop-color="#d55e4c"/><stop offset="0.228" stop-color="#c2383a"/><stop offset="0.234" stop-color="#af172b"/><stop offset="0.253" stop-color="#810d24"/><stop offset="0.266" stop-color="#7e0c24"/><stop offset="0.747" stop-color="#7e0c24"/><stop offset="0.753" stop-color="#880e25"/><stop offset="0.766" stop-color="#a7162a"/><stop offset="0.772" stop-color="#b92632"/><stop offset="0.778" stop-color="#cc4b43"/><stop offset="0.784" stop-color="#dd6f59"/><stop offset="0.791" stop-color="#ec9374"/><stop offset="0.797" stop-color="#f6ae8e"/><stop offset="0.809" stop-color="#fddbc8"/><stop offset="0.822" stop-color="#f8f3f0"/><stop offset="0.828" stop-color="#f0f3f6"/><stop offset="0.847" stop-color="#cfe4ef"/><stop offset="0.866" stop-color="#9ac9e0"/><stop offset="0.878" stop-color="#72b1d3"/><stop offset="0.897" stop-color="#4392c3"/><stop offset="0.922" stop-color="#2769ad"/><stop offset="0.928" stop-color="#2262a9"/><stop offset="0.978" stop-color="#1f447d"/><stop offset="0.991" stop-color="#1e3d72"/><stop offset="0.997" stop-color="#1e3c71"/></linearGradient><linearGradient id="r64" x1="0" x2="0" y1="0" y2="1"><stop offset="0.003" stop-color="#1e3c71"/><stop offset="0.016" stop-color="#1e3e73"/><stop offset="0.078" stop-color="#215da4"/><stop offset="0.091" stop-color="#2b6fb0"/><stop offset="0.116" stop-color="#4392c3"/><stop offset="0.128" stop-color="#5da4cc"/><stop offset="0.147" stop-color="#95c7df"/><stop offset="0.172" stop-color="#d1e5f0"/><stop offset="0.178" stop-color="#dae9f2"/><stop offset="0.191" stop-color="#f5f6f7"/><stop offset="0.203" stop-color="#fbe4d7"/><stop offset="0.209" stop-color="#fddac5"/><stop offset="0.222" stop-color="#f5ac8b"/><stop offset="0.234" stop-color="#de725b"/><stop offset="0.241" stop-color="#d6604d"/><stop offset="0.259" stop-color="#bb2a33"/><stop offset="0.266" stop-color="#b72330"/><stop offset="0.434" stop-color="#bc2d35"/><stop offset="0.597" stop-color="#bc2c34"/><stop offset="0.741" stop-color="#b72330"/><stop offset="0.759" stop-color="#d25749"/><stop offset="0.766" stop-color="#da6954"/><stop offset="0.772" stop-color="#e48066"/><stop offset="0.778" stop-color="#f19f7d"/><stop offset="0.791" stop-color="#fbd0b8"/><stop offset="0.797" stop-color="#fcdfce"/><stop offset="0.809" stop-color="#f8f3f1"/><stop offset="0.816" stop-color="#eef3f5"/><stop offset="0.834" stop-color="#cae1ee"/><stop offset="0.859" stop-color="#8cc1dc"/><stop offset="0.872" stop-color="#67aacf"/><stop offset="0.884" stop-color="#4997c5"/><stop offset="0.891" stop-color="#408ec0"/><stop offset="0.922" stop-color="#2262a9"/><stop offset="0.934" stop-color="#20599d"/><stop offset="0.991" stop-color="#1e3d72"/><stop offset="0.997" stop-color="#1e3c71"/></linearGradient><linearGradient id="r65" x1="0" x2="0" y1="0" y2="1"><stop offset="0.003" stop-color="#1e3c71"/><stop offset="0.022" stop-color="#1e3f75"/><stop offset="0.078" stop-color="#205394"/><stop offset="0.091" stop-color="#2160a8"/><stop offset="0.128" stop-color="#3b86bc"/><stop offset="0.134" stop-color="#408fc1"/><stop offset="0.141" stop-color="#4b98c6"/><stop offset="0.172" stop-color="#8fc3dd"/><stop offset="0.178" stop-color="#9ac9e0"/><stop offset="0.197" stop-color="#cbe2ee"/><stop offset="0.216" stop-color="#ecf2f5"/><stop offset="0.222" stop-color="#f7f6f5"/><stop offset="0.234" stop-color="#fbe4d7"/><stop offset="0.247" stop-color="#fdd9c4"/><stop offset="0.259" stop-color="#f9c5ab"/><stop offset="0.266" stop-color="#f9c1a6"/><stop offset="0.434" stop-color="#facab1"/><stop offset="0.591" stop-color="#fac9b0"/><stop offset="0.741" stop-color="#f9c1a6"/><stop offset="0.759" stop-color="#fdddca"/><stop offset="0.772" stop-color="#fae8de"/><stop offset="0.778" stop-color="#f8f1ed"/><stop offset="0.784" stop-color="#f3f5f6"/><stop offset="0.803" stop-color="#d2e6f0"/><stop offset="0.822" stop-color="#a2cde3"/><stop offset="0.847" stop-color="#6dadd1"/><stop offset="0.866" stop-color="#4493c3"/><stop offset="0.884" stop-color="#347db7"/><stop offset="0.909" stop-color="#2363aa"/><stop offset="0.928" stop-color="#205292"/><stop offset="0.984" stop-color="#1e3e73"/><stop offset="0.997" stop-color="#1e3c71"/></linearGradient><linearGradient id="r66" x1="0" x2="0" y1="0" y2="1"><stop offset="0.003" stop-color="#1e3c71"/><stop offset="0.028" stop-color="#1e3f75"/><stop offset="0.078" stop-color="#1f4b88"/><stop offset="0.109" stop-color="#2261a9"/><stop offset="0.134" stop-color="#2f75b3"/><stop offset="0.166" stop-color="#4393c3"/><stop offset="0.178" stop-color="#569fca"/><stop offset="0.203" stop-color="#8fc3dd"/><stop offset="0.228" stop-color="#c4deec"/><stop offset="0.234" stop-color="#d1e5f0"/><stop offset="0.259" stop-color="#e4eef4"/><stop offset="0.284" stop-color="#e6eff4"/><stop offset="0.491" stop-color="#dfecf3"/><stop offset="0.703" stop-color="#e5eef4"/><stop offset="0.741" stop-color="#e6eff4"/><stop offset="0.766" stop-color="#d4e6f0"/><stop offset="0.772" stop-color="#cbe2ee"/><stop offset="0.791" stop-color="#a1cde2"/><stop offset="0.803" stop-color="#88bfdb"/><stop offset="0.822" stop-color="#5da4cc"/><stop offset="0.834" stop-color="#4896c5"/><stop offset="0.847" stop-color="#3d8abe"/><stop offset="0.878" stop-color="#296caf"/><stop offset="0.897" stop-color="#215fa6"/><stop offset="0.922" stop-color="#1f4e8c"/><stop offset="0.941" stop-color="#1f4782"/><stop offset="0.984" stop-color="#1e3d72"/><stop offset="0.997" stop-color="#1e3c71"/></linearGradient><linearGradient id="r67" x1="0" x2="0" y1="0" y2="1"><stop offset="0.003" stop-color="#1e3c71"/><stop offset="0.034" stop-color="#1e3f74"/><stop offset="0.078" stop-color="#1f4681"/><stop offset="0.128" stop-color="#215fa6"/><stop offset="0.178" stop-color="#3781ba"/><stop offset="0.197" stop-color="#4695c4"/><stop offset="0.216" stop-color="#65a9cf"/><stop offset="0.234" stop-color="#8ac0db"/><stop offset="0.259" stop-color="#a2cde3"/><stop offset="0.272" stop-color="#a3cee3"/><stop offset="0.422" stop-color="#99c9e0"/><stop offset="0.572" stop-color="#99c8e0"/><stop offset="0.709" stop-color="#a2cde2"/><stop offset="0.741" stop-color="#a4cee3"/><stop offset="0.766" stop-color="#8dc2dc"/><stop offset="0.778" stop-color="#78b4d5"/><stop offset="0.797" stop-color="#559ec9"/><stop offset="0.809" stop-color="#4292c2"/><stop offset="0.828" stop-color="#367fb9"/><stop offset="0.872" stop-color="#2261a9"/><stop offset="0.928" stop-color="#1f4680"/><stop offset="0.984" stop-color="#1e3d72"/><stop offset="0.997" stop-color="#1e3c71"/></linearGradient><linearGradient id="r68" x1="0" x2="0" y1="0" y2="1"><stop offset="0.003" stop-color="#1e3c71"/><stop offset="0.041" stop-color="#1e3f75"/><stop offset="0.078" stop-color="#1f447c"/><stop offset="0.134" stop-color="#20599d"/><stop offset="0.153" stop-color="#2262a9"/><stop offset="0.184" stop-color="#2e73b2"/><stop offset="0.222" stop-color="#4291c2"/><stop offset="0.234" stop-color="#529cc8"/><stop offset="0.259" stop-color="#66a9cf"/><stop offset="0.278" stop-color="#66a9cf"/><stop offset="0.391" stop-color="#5aa2cb"/><stop offset="0.528" stop-color="#579fca"/><stop offset="0.666" stop-color="#5fa4cc"/><stop offset="0.741" stop-color="#68aad0"/><stop offset="0.766" stop-color="#549ec9"/><stop offset="0.778" stop-color="#4494c3"/><stop offset="0.816" stop-color="#2f75b3"/><stop offset="0.847" stop-color="#2363aa"/><stop offset="0.859" stop-color="#215da4"/><stop offset="0.891" stop-color="#20508f"/><stop offset="0.928" stop-color="#1f437c"/><stop offset="0.984" stop-color="#1e3d72"/><stop offset="0.997" stop-color="#1e3c71"/></linearGradient><linearGradient id="r69" x1="0" x2="0" y1="0" y2="1"><stop offset="0.003" stop-color="#1e3d72"/><stop offset="0.053" stop-color="#1e4077"/><stop offset="0.084" stop-color="#1f447d"/><stop offset="0.134" stop-color="#205293"/><stop offset="0.172" stop-color="#2160a8"/><stop offset="0.222" stop-color="#347cb7"/><stop offset="0.241" stop-color="#3b88bd"/><stop offset="0.266" stop-color="#418fc1"/><stop offset="0.428" stop-color="#3984bb"/><stop offset="0.578" stop-color="#3985bb"/><stop offset="0.716" stop-color="#408ec0"/><stop offset="0.741" stop-color="#4190c1"/><stop offset="0.772" stop-color="#3883bb"/><stop offset="0.822" stop-color="#2464aa"/><stop offset="0.841" stop-color="#215da3"/><stop offset="0.884" stop-color="#1f4d8b"/><stop offset="0.928" stop-color="#1e427a"/><stop offset="0.997" stop-color="#1e3d72"/></linearGradient><linearGradient id="r70" x1="0" x2="0" y1="0" y2="1"><stop offset="0.003" stop-color="#1e3d72"/><stop offset="0.084" stop-color="#1f447c"/><stop offset="0.141" stop-color="#205090"/><stop offset="0.184" stop-color="#215ea4"/><stop offset="0.197" stop-color="#2363aa"/><stop offset="0.241" stop-color="#3178b5"/><stop offset="0.266" stop-color="#357eb8"/><stop offset="0.416" stop-color="#2d72b1"/><stop offset="0.553" stop-color="#2c71b1"/><stop offset="0.697" stop-color="#327ab6"/><stop offset="0.741" stop-color="#357eb8"/><stop offset="0.772" stop-color="#2e74b3"/><stop offset="0.816" stop-color="#215fa6"/><stop offset="0.859" stop-color="#205191"/><stop offset="0.922" stop-color="#1f437b"/><stop offset="0.997" stop-color="#1e3d72"/></linearGradient><linearGradient id="r71" x1="0" x2="0" y1="0" y2="1"><stop offset="0.003" stop-color="#1e3e74"/><stop offset="0.084" stop-color="#1f447d"/><stop offset="0.147" stop-color="#204f8e"/><stop offset="0.184" stop-color="#20599d"/><stop offset="0.209" stop-color="#2261a9"/><stop offset="0.247" stop-color="#2b6fb0"/><stop offset="0.266" stop-color="#2d72b1"/><stop offset="0.403" stop-color="#2465ab"/><stop offset="0.541" stop-color="#2363a9"/><stop offset="0.678" stop-color="#286bae"/><stop offset="0.741" stop-color="#2d72b2"/><stop offset="0.778" stop-color="#2668ac"/><stop offset="0.803" stop-color="#215ea5"/><stop offset="0.841" stop-color="#205394"/><stop offset="0.909" stop-color="#1f457f"/><stop offset="0.953" stop-color="#1e4178"/><stop offset="0.997" stop-color="#1e3f74"/></linearGradient><linearGradient id="r72" x1="0" x2="0" y1="0" y2="1"><stop offset="0.003" stop-color="#1e4178"/><stop offset="0.091" stop-color="#1f4680"/><stop offset="0.166" stop-color="#205292"/><stop offset="0.222" stop-color="#2261a9"/><stop offset="0.259" stop-color="#286aad"/><stop offset="0.372" stop-color="#215ea5"/><stop offset="0.472" stop-color="#20599d"/><stop offset="0.559" stop-color="#205a9e"/><stop offset="0.678" stop-color="#2362a9"/><stop offset="0.741" stop-color="#286aad"/><stop offset="0.778" stop-color="#2262a9"/><stop offset="0.841" stop-color="#205191"/><stop offset="0.922" stop-color="#1f457e"/><stop offset="0.997" stop-color="#1e4178"/></linearGradient><linearGradient id="r73" x1="0" x2="0" y1="0" y2="1"><stop offset="0.003" stop-color="#1f437c"/><stop offset="0.091" stop-color="#1f4882"/><stop offset="0.178" stop-color="#205495"/><stop offset="0.234" stop-color="#2262a9"/><stop offset="0.266" stop-color="#2465ab"/><stop offset="0.309" stop-color="#215fa6"/><stop offset="0.384" stop-color="#205699"/><stop offset="0.484" stop-color="#205191"/><stop offset="0.591" stop-color="#205496"/><stop offset="0.684" stop-color="#215ea4"/><stop offset="0.728" stop-color="#2464aa"/><stop offset="0.753" stop-color="#2464aa"/><stop offset="0.778" stop-color="#215fa6"/><stop offset="0.834" stop-color="#205293"/><stop offset="0.922" stop-color="#1f4781"/><stop offset="0.997" stop-color="#1f437c"/></linearGradient><linearGradient id="r74" x1="0" x2="0" y1="0" y2="1"><stop offset="0.003" stop-color="#1f4781"/><stop offset="0.097" stop-color="#1f4b87"/><stop offset="0.184" stop-color="#205598"/><stop offset="0.241" stop-color="#2261a9"/><stop offset="0.266" stop-color="#2363aa"/><stop offset="0.297" stop-color="#215ea5"/><stop offset="0.359" stop-color="#205496"/><stop offset="0.453" stop-color="#1f4d8b"/><stop offset="0.522" stop-color="#1f4c89"/><stop offset="0.609" stop-color="#205190"/><stop offset="0.684" stop-color="#205a9f"/><stop offset="0.722" stop-color="#2261a9"/><stop offset="0.753" stop-color="#2362a9"/><stop offset="0.778" stop-color="#215ea5"/><stop offset="0.841" stop-color="#205293"/><stop offset="0.934" stop-color="#1f4984"/><stop offset="0.997" stop-color="#1f4781"/></linearGradient><linearGradient id="r75" x1="0" x2="0" y1="0" y2="1"><stop offset="0.003" stop-color="#1f4b87"/><stop offset="0.103" stop-color="#204f8e"/><stop offset="0.197" stop-color="#205a9e"/><stop offset="0.241" stop-color="#2261a9"/><stop offset="0.266" stop-color="#2363a9"/><stop offset="0.291" stop-color="#215fa6"/><stop offset="0.353" stop-color="#205293"/><stop offset="0.441" stop-color="#1f4985"/><stop offset="0.516" stop-color="#1f4882"/><stop offset="0.597" stop-color="#1f4c89"/><stop offset="0.678" stop-color="#20579a"/><stop offset="0.722" stop-color="#2160a8"/><stop offset="0.753" stop-color="#2362a9"/><stop offset="0.778" stop-color="#215fa6"/><stop offset="0.847" stop-color="#205496"/><stop offset="0.941" stop-color="#1f4d8a"/><stop offset="0.997" stop-color="#1f4b88"/></linearGradient><linearGradient id="r76" x1="0" x2="0" y1="0" y2="1"><stop offset="0.003" stop-color="#205090"/><stop offset="0.109" stop-color="#205496"/><stop offset="0.197" stop-color="#215da3"/><stop offset="0.241" stop-color="#2464aa"/><stop offset="0.266" stop-color="#2464aa"/><stop offset="0.291" stop-color="#2160a7"/><stop offset="0.347" stop-color="#205293"/><stop offset="0.422" stop-color="#1f4883"/><stop offset="0.509" stop-color="#1f447d"/><stop offset="0.591" stop-color="#1f4985"/><stop offset="0.666" stop-color="#205495"/><stop offset="0.722" stop-color="#2262a9"/><stop offset="0.753" stop-color="#2465aa"/><stop offset="0.797" stop-color="#215ea5"/><stop offset="0.884" stop-color="#205597"/><stop offset="0.978" stop-color="#205191"/><stop offset="0.997" stop-color="#205090"/></linearGradient><linearGradient id="r77" x1="0" x2="0" y1="0" y2="1"><stop offset="0.003" stop-color="#20589b"/><stop offset="0.116" stop-color="#215ba1"/><stop offset="0.203" stop-color="#2363aa"/><stop offset="0.259" stop-color="#276aad"/><stop offset="0.297" stop-color="#2161a8"/><stop offset="0.347" stop-color="#205293"/><stop offset="0.409" stop-color="#1f4883"/><stop offset="0.459" stop-color="#1f437b"/><stop offset="0.509" stop-color="#1e4179"/><stop offset="0.584" stop-color="#1f4781"/><stop offset="0.653" stop-color="#205292"/><stop offset="0.697" stop-color="#215da4"/><stop offset="0.716" stop-color="#2464aa"/><stop offset="0.747" stop-color="#286aad"/><stop offset="0.853" stop-color="#215ea5"/><stop offset="0.953" stop-color="#20599c"/><stop offset="0.997" stop-color="#20589b"/></linearGradient><linearGradient id="r78" x1="0" x2="0" y1="0" y2="1"><stop offset="0.003" stop-color="#2261a9"/><stop offset="0.147" stop-color="#2567ac"/><stop offset="0.259" stop-color="#2c71b1"/><stop offset="0.291" stop-color="#2768ac"/><stop offset="0.316" stop-color="#215ea6"/><stop offset="0.347" stop-color="#205496"/><stop offset="0.403" stop-color="#1f4883"/><stop offset="0.447" stop-color="#1e427a"/><stop offset="0.509" stop-color="#1e3f75"/><stop offset="0.578" stop-color="#1f457e"/><stop offset="0.634" stop-color="#204f8e"/><stop offset="0.672" stop-color="#20599d"/><stop offset="0.697" stop-color="#2262a9"/><stop offset="0.734" stop-color="#2b6fb0"/><stop offset="0.753" stop-color="#2c71b1"/><stop offset="0.891" stop-color="#2464aa"/><stop offset="0.997" stop-color="#2261a9"/></linearGradient><linearGradient id="r79" x1="0" x2="0" y1="0" y2="1"><stop offset="0.003" stop-color="#2b6fb0"/><stop offset="0.159" stop-color="#2f74b3"/><stop offset="0.259" stop-color="#347cb7"/><stop offset="0.291" stop-color="#2d72b1"/><stop offset="0.328" stop-color="#215fa7"/><stop offset="0.359" stop-color="#205496"/><stop offset="0.397" stop-color="#1f4a86"/><stop offset="0.441" stop-color="#1e427a"/><stop offset="0.503" stop-color="#1e3d72"/><stop offset="0.572" stop-color="#1f437b"/><stop offset="0.628" stop-color="#20508f"/><stop offset="0.672" stop-color="#215ea4"/><stop offset="0.684" stop-color="#2363aa"/><stop offset="0.728" stop-color="#3178b5"/><stop offset="0.747" stop-color="#347db7"/><stop offset="0.903" stop-color="#2c71b1"/><stop offset="0.997" stop-color="#2b6fb0"/></linearGradient><linearGradient id="r80" x1="0" x2="0" y1="0" y2="1"><stop offset="0.003" stop-color="#3882ba"/><stop offset="0.172" stop-color="#3c88bd"/><stop offset="0.259" stop-color="#408ec0"/><stop offset="0.291" stop-color="#3680b9"/><stop offset="0.341" stop-color="#2261a8"/><stop offset="0.391" stop-color="#1f4e8d"/><stop offset="0.441" stop-color="#1e427a"/><stop offset="0.497" stop-color="#1e3d72"/><stop offset="0.541" stop-color="#1e3f76"/><stop offset="0.572" stop-color="#1f437c"/><stop offset="0.628" stop-color="#205495"/><stop offset="0.659" stop-color="#2160a7"/><stop offset="0.728" stop-color="#3c88bd"/><stop offset="0.747" stop-color="#408fc1"/><stop offset="0.922" stop-color="#3883bb"/><stop offset="0.997" stop-color="#3882ba"/></linearGradient><linearGradient id="r81" x1="0" x2="0" y1="0" y2="1"><stop offset="0.003" stop-color="#549ec9"/><stop offset="0.141" stop-color="#5aa2cb"/><stop offset="0.253" stop-color="#66a9cf"/><stop offset="0.266" stop-color="#5fa5cd"/><stop offset="0.284" stop-color="#509bc7"/><stop offset="0.297" stop-color="#4190c1"/><stop offset="0.341" stop-color="#296caf"/><stop offset="0.366" stop-color="#215fa7"/><stop offset="0.391" stop-color="#205394"/><stop offset="0.434" stop-color="#1f447d"/><stop offset="0.484" stop-color="#1e3d72"/><stop offset="0.528" stop-color="#1e3e73"/><stop offset="0.572" stop-color="#1f457e"/><stop offset="0.622" stop-color="#20579a"/><stop offset="0.641" stop-color="#2261a8"/><stop offset="0.672" stop-color="#2e73b2"/><stop offset="0.709" stop-color="#4393c3"/><stop offset="0.722" stop-color="#529dc8"/><stop offset="0.747" stop-color="#66a9cf"/><stop offset="0.891" stop-color="#58a0ca"/><stop offset="0.997" stop-color="#549ec9"/></linearGradient><linearGradient id="r82" x1="0" x2="0" y1="0" y2="1"><stop offset="0.003" stop-color="#96c7df"/><stop offset="0.172" stop-color="#9ccae1"/><stop offset="0.253" stop-color="#a2cde3"/><stop offset="0.259" stop-color="#a0cce2"/><stop offset="0.284" stop-color="#88beda"/><stop offset="0.316" stop-color="#4d99c6"/><stop offset="0.322" stop-color="#4292c3"/><stop offset="0.341" stop-color="#357fb8"/><stop offset="0.384" stop-color="#215fa6"/><stop offset="0.434" stop-color="#1f4681"/><stop offset="0.484" stop-color="#1e3d72"/><stop offset="0.522" stop-color="#1e3d72"/><stop offset="0.572" stop-color="#1f4883"/><stop offset="0.622" stop-color="#2261a9"/><stop offset="0.666" stop-color="#3781b9"/><stop offset="0.678" stop-color="#408fc1"/><stop offset="0.684" stop-color="#4796c4"/><stop offset="0.709" stop-color="#75b3d4"/><stop offset="0.722" stop-color="#8bc1dc"/><stop offset="0.747" stop-color="#a3cde3"/><stop offset="0.922" stop-color="#97c8df"/><stop offset="0.997" stop-color="#96c7df"/></linearGradient><linearGradient id="r83" x1="0" x2="0" y1="0" y2="1"><stop offset="0.003" stop-color="#deebf2"/><stop offset="0.222" stop-color="#e4eef3"/><stop offset="0.253" stop-color="#e5eff4"/><stop offset="0.266" stop-color="#deebf2"/><stop offset="0.284" stop-color="#cfe4ef"/><stop offset="0.316" stop-color="#8bc0dc"/><stop offset="0.334" stop-color="#5da3cc"/><stop offset="0.347" stop-color="#4695c4"/><stop offset="0.378" stop-color="#2f75b3"/><stop offset="0.403" stop-color="#2261a9"/><stop offset="0.434" stop-color="#1f4b88"/><stop offset="0.484" stop-color="#1e3d72"/><stop offset="0.516" stop-color="#1e3d72"/><stop offset="0.566" stop-color="#1f4a87"/><stop offset="0.597" stop-color="#215fa6"/><stop offset="0.622" stop-color="#2d72b1"/><stop offset="0.653" stop-color="#4292c2"/><stop offset="0.666" stop-color="#559ec9"/><stop offset="0.691" stop-color="#92c5de"/><stop offset="0.716" stop-color="#c8e1ed"/><stop offset="0.722" stop-color="#d2e6f0"/><stop offset="0.747" stop-color="#e5eff4"/><stop offset="0.978" stop-color="#dfebf2"/><stop offset="0.997" stop-color="#deebf2"/></linearGradient><linearGradient id="r84" x1="0" x2="0" y1="0" y2="1"><stop offset="0.003" stop-color="#fbccb4"/><stop offset="0.184" stop-color="#fac7ae"/><stop offset="0.253" stop-color="#f9c3a8"/><stop offset="0.259" stop-color="#fac8ae"/><stop offset="0.272" stop-color="#fddbc7"/><stop offset="0.284" stop-color="#fbe5d9"/><stop offset="0.297" stop-color="#f7f7f7"/><stop offset="0.316" stop-color="#d5e7f1"/><stop offset="0.328" stop-color="#b4d6e8"/><stop offset="0.334" stop-color="#a2cde3"/><stop offset="0.366" stop-color="#5aa2cb"/><stop offset="0.372" stop-color="#4c99c6"/><stop offset="0.378" stop-color="#418fc1"/><stop offset="0.391" stop-color="#3680b9"/><stop offset="0.422" stop-color="#2160a8"/><stop offset="0.434" stop-color="#205394"/><stop offset="0.484" stop-color="#1e3e74"/><stop offset="0.503" stop-color="#1e3c71"/><stop offset="0.516" stop-color="#1e3d72"/><stop offset="0.566" stop-color="#205292"/><stop offset="0.584" stop-color="#2363aa"/><stop offset="0.622" stop-color="#3e8bbf"/><stop offset="0.628" stop-color="#4594c4"/><stop offset="0.659" stop-color="#8dc2dc"/><stop offset="0.666" stop-color="#99c9e0"/><stop offset="0.684" stop-color="#cee4ef"/><stop offset="0.703" stop-color="#f1f4f6"/><stop offset="0.709" stop-color="#f8f3f0"/><stop offset="0.716" stop-color="#faeae0"/><stop offset="0.722" stop-color="#fbe3d4"/><stop offset="0.734" stop-color="#fcd6c1"/><stop offset="0.747" stop-color="#f9c3a8"/><stop offset="0.928" stop-color="#facbb3"/><stop offset="0.997" stop-color="#faccb4"/></linearGradient><linearGradient id="r85" x1="0" x2="0" y1="0" y2="1"><stop offset="0.003" stop-color="#be3036"/><stop offset="0.184" stop-color="#bb2a34"/><stop offset="0.253" stop-color="#b92531"/><stop offset="0.259" stop-color="#bd2e35"/><stop offset="0.278" stop-color="#d86450"/><stop offset="0.284" stop-color="#df765e"/><stop offset="0.291" stop-color="#ed9475"/><stop offset="0.297" stop-color="#f6af8f"/><stop offset="0.309" stop-color="#fddcc9"/><stop offset="0.322" stop-color="#f8f2ee"/><stop offset="0.328" stop-color="#eff3f6"/><stop offset="0.347" stop-color="#c7e0ed"/><stop offset="0.366" stop-color="#97c8e0"/><stop offset="0.384" stop-color="#5da4cc"/><stop offset="0.397" stop-color="#4292c3"/><stop offset="0.428" stop-color="#2566ab"/><stop offset="0.434" stop-color="#215da4"/><stop offset="0.491" stop-color="#1e3d72"/><stop offset="0.509" stop-color="#1e3d71"/><stop offset="0.516" stop-color="#1e3e74"/><stop offset="0.566" stop-color="#215ba1"/><stop offset="0.572" stop-color="#2262a9"/><stop offset="0.603" stop-color="#408ec0"/><stop offset="0.609" stop-color="#4997c5"/><stop offset="0.616" stop-color="#569fca"/><stop offset="0.628" stop-color="#7bb6d6"/><stop offset="0.634" stop-color="#8fc3dd"/><stop offset="0.659" stop-color="#cfe4ef"/><stop offset="0.666" stop-color="#d9e9f2"/><stop offset="0.678" stop-color="#f7f7f7"/><stop offset="0.691" stop-color="#fce2d2"/><stop offset="0.697" stop-color="#fcd3bc"/><stop offset="0.709" stop-color="#f3a380"/><stop offset="0.716" stop-color="#e68569"/><stop offset="0.722" stop-color="#dc6d57"/><stop offset="0.728" stop-color="#d45b4b"/><stop offset="0.747" stop-color="#b92531"/><stop offset="0.934" stop-color="#be2f36"/><stop offset="0.997" stop-color="#be3036"/></linearGradient><linearGradient id="r86" x1="0" x2="0" y1="0" y2="1"><stop offset="0.003" stop-color="#7e0c24"/><stop offset="0.259" stop-color="#7e0c24"/><stop offset="0.266" stop-color="#840d25"/><stop offset="0.284" stop-color="#b2192b"/><stop offset="0.297" stop-color="#d7634f"/><stop offset="0.309" stop-color="#f4a785"/><stop offset="0.322" stop-color="#fdd9c4"/><stop offset="0.334" stop-color="#f8f3f1"/><stop offset="0.341" stop-color="#eef3f5"/><stop offset="0.353" stop-color="#d8e8f1"/><stop offset="0.359" stop-color="#c9e1ee"/><stop offset="0.378" stop-color="#92c5de"/><stop offset="0.384" stop-color="#7ab6d6"/><stop offset="0.403" stop-color="#4a97c5"/><stop offset="0.409" stop-color="#3f8dc0"/><stop offset="0.434" stop-color="#2364aa"/><stop offset="0.441" stop-color="#215fa7"/><stop offset="0.491" stop-color="#1e3d72"/><stop offset="0.509" stop-color="#1e3d71"/><stop offset="0.522" stop-color="#1f437c"/><stop offset="0.566" stop-color="#2261a9"/><stop offset="0.578" stop-color="#2e73b2"/><stop offset="0.597" stop-color="#4392c3"/><stop offset="0.616" stop-color="#72b1d3"/><stop offset="0.628" stop-color="#9bcae1"/><stop offset="0.647" stop-color="#d2e6f0"/><stop offset="0.666" stop-color="#f4f5f6"/><stop offset="0.672" stop-color="#f9ede6"/><stop offset="0.678" stop-color="#fce0d0"/><stop offset="0.684" stop-color="#fbccb4"/><stop offset="0.691" stop-color="#f6b495"/><stop offset="0.697" stop-color="#ee9878"/><stop offset="0.703" stop-color="#df745d"/><stop offset="0.709" stop-color="#ce5046"/><stop offset="0.716" stop-color="#bc2b34"/><stop offset="0.722" stop-color="#ab162a"/><stop offset="0.741" stop-color="#7e0c24"/><stop offset="0.997" stop-color="#7e0c24"/></linearGradient><linearGradient id="r87" x1="0" x2="0" y1="0" y2="1"><stop offset="0.003" stop-color="#a41529"/><stop offset="0.228" stop-color="#9e1328"/><stop offset="0.253" stop-color="#9d1328"/><stop offset="0.259" stop-color="#a41529"/><stop offset="0.266" stop-color="#b2182b"/><stop offset="0.284" stop-color="#cf5246"/><stop offset="0.291" stop-color="#de735c"/><stop offset="0.297" stop-color="#ec9374"/><stop offset="0.303" stop-color="#f6b091"/><stop offset="0.309" stop-color="#fac8af"/><stop offset="0.316" stop-color="#fdddca"/><stop offset="0.328" stop-color="#f8f4f2"/><stop offset="0.334" stop-color="#ebf1f5"/><stop offset="0.347" stop-color="#d4e6f1"/><stop offset="0.372" stop-color="#92c5de"/><stop offset="0.384" stop-color="#67aacf"/><stop offset="0.397" stop-color="#4a97c5"/><stop offset="0.403" stop-color="#408ec0"/><stop offset="0.434" stop-color="#215fa6"/><stop offset="0.484" stop-color="#1e4076"/><stop offset="0.491" stop-color="#1e3d72"/><stop offset="0.509" stop-color="#1e3c71"/><stop offset="0.516" stop-color="#1e3e73"/><stop offset="0.566" stop-color="#215da3"/><stop offset="0.572" stop-color="#2364aa"/><stop offset="0.603" stop-color="#4393c3"/><stop offset="0.616" stop-color="#60a5cd"/><stop offset="0.622" stop-color="#72b1d3"/><stop offset="0.634" stop-color="#9ac9e0"/><stop offset="0.653" stop-color="#cde3ef"/><stop offset="0.666" stop-color="#e3eef3"/><stop offset="0.672" stop-color="#f3f5f6"/><stop offset="0.678" stop-color="#f9eee8"/><stop offset="0.684" stop-color="#fbe3d4"/><stop offset="0.691" stop-color="#fcd4be"/><stop offset="0.697" stop-color="#f8bda1"/><stop offset="0.703" stop-color="#f3a381"/><stop offset="0.716" stop-color="#d7634f"/><stop offset="0.722" stop-color="#ca4842"/><stop offset="0.734" stop-color="#b7212f"/><stop offset="0.741" stop-color="#aa162a"/><stop offset="0.747" stop-color="#9d1328"/><stop offset="0.984" stop-color="#a41529"/><stop offset="0.997" stop-color="#a41529"/></linearGradient><linearGradient id="r88" x1="0" x2="0" y1="0" y2="1"><stop offset="0.003" stop-color="#f5a886"/><stop offset="0.216" stop-color="#f3a380"/><stop offset="0.253" stop-color="#f2a17f"/><stop offset="0.259" stop-color="#f4a784"/><stop offset="0.284" stop-color="#fcd3bc"/><stop offset="0.291" stop-color="#fce0d0"/><stop offset="0.303" stop-color="#f8f4f2"/><stop offset="0.309" stop-color="#eef3f5"/><stop offset="0.322" stop-color="#d7e8f1"/><stop offset="0.328" stop-color="#c7e0ed"/><stop offset="0.334" stop-color="#b3d6e7"/><stop offset="0.341" stop-color="#a3cee3"/><stop offset="0.353" stop-color="#88bfdb"/><stop offset="0.378" stop-color="#4896c5"/><stop offset="0.384" stop-color="#3e8cbf"/><stop offset="0.422" stop-color="#2262a9"/><stop offset="0.434" stop-color="#205495"/><stop offset="0.484" stop-color="#1e3d72"/><stop offset="0.509" stop-color="#1e3c71"/><stop offset="0.522" stop-color="#1e3e73"/><stop offset="0.566" stop-color="#205293"/><stop offset="0.578" stop-color="#215ea5"/><stop offset="0.622" stop-color="#4291c2"/><stop offset="0.653" stop-color="#90c4dd"/><stop offset="0.666" stop-color="#aad1e5"/><stop offset="0.678" stop-color="#d1e5f0"/><stop offset="0.697" stop-color="#f4f6f7"/><stop offset="0.703" stop-color="#f9efea"/><stop offset="0.716" stop-color="#fddcc8"/><stop offset="0.722" stop-color="#fbcdb5"/><stop offset="0.747" stop-color="#f2a17f"/><stop offset="0.941" stop-color="#f4a885"/><stop offset="0.997" stop-color="#f5a886"/></linearGradient><linearGradient id="r89" x1="0" x2="0" y1="0" y2="1"><stop offset="0.003" stop-color="#f1f4f6"/><stop offset="0.253" stop-color="#f5f6f7"/><stop offset="0.266" stop-color="#edf2f5"/><stop offset="0.284" stop-color="#ddebf2"/><stop offset="0.291" stop-color="#d4e6f0"/><stop offset="0.322" stop-color="#8bc1dc"/><stop offset="0.334" stop-color="#69abd0"/><stop offset="0.347" stop-color="#509bc8"/><stop offset="0.353" stop-color="#4594c4"/><stop offset="0.384" stop-color="#2c71b1"/><stop offset="0.403" stop-color="#2262a9"/><stop offset="0.428" stop-color="#204f8d"/><stop offset="0.434" stop-color="#1f4a86"/><stop offset="0.472" stop-color="#1e3d73"/><stop offset="0.509" stop-color="#1e3c70"/><stop offset="0.534" stop-color="#1e3e74"/><stop offset="0.566" stop-color="#1f4984"/><stop offset="0.591" stop-color="#215ba0"/><stop offset="0.597" stop-color="#215fa7"/><stop offset="0.622" stop-color="#2f74b3"/><stop offset="0.647" stop-color="#4291c2"/><stop offset="0.666" stop-color="#61a6cd"/><stop offset="0.684" stop-color="#94c6de"/><stop offset="0.703" stop-color="#bedbeb"/><stop offset="0.709" stop-color="#cee3ef"/><stop offset="0.716" stop-color="#d8e8f1"/><stop offset="0.734" stop-color="#eaf1f5"/><stop offset="0.747" stop-color="#f5f6f7"/><stop offset="0.997" stop-color="#f1f4f6"/></linearGradient><linearGradient id="r90" x1="0" x2="0" y1="0" y2="1"><stop offset="0.003" stop-color="#a9d1e5"/><stop offset="0.228" stop-color="#afd4e6"/><stop offset="0.253" stop-color="#b0d4e7"/><stop offset="0.259" stop-color="#add3e6"/><stop offset="0.284" stop-color="#94c6df"/><stop offset="0.316" stop-color="#549ec9"/><stop offset="0.322" stop-color="#4896c5"/><stop offset="0.334" stop-color="#3b87bd"/><stop offset="0.378" stop-color="#2363a9"/><stop offset="0.434" stop-color="#1e437b"/><stop offset="0.466" stop-color="#1e3d72"/><stop offset="0.522" stop-color="#1e3c71"/><stop offset="0.547" stop-color="#1e3e73"/><stop offset="0.572" stop-color="#1f447d"/><stop offset="0.622" stop-color="#2160a8"/><stop offset="0.666" stop-color="#3883bb"/><stop offset="0.678" stop-color="#4392c3"/><stop offset="0.703" stop-color="#73b2d3"/><stop offset="0.716" stop-color="#8ec3dd"/><stop offset="0.722" stop-color="#97c8e0"/><stop offset="0.747" stop-color="#b0d4e7"/><stop offset="0.991" stop-color="#a9d1e5"/><stop offset="0.997" stop-color="#a9d1e5"/></linearGradient><linearGradient id="r91" x1="0" x2="0" y1="0" y2="1"><stop offset="0.003" stop-color="#64a8ce"/><stop offset="0.216" stop-color="#6aacd0"/><stop offset="0.253" stop-color="#6cadd1"/><stop offset="0.259" stop-color="#6aabd0"/><stop offset="0.284" stop-color="#539dc9"/><stop offset="0.297" stop-color="#4291c2"/><stop offset="0.341" stop-color="#286aad"/><stop offset="0.359" stop-color="#215fa7"/><stop offset="0.391" stop-color="#204f8e"/><stop offset="0.434" stop-color="#1e3e74"/><stop offset="0.516" stop-color="#1e3b70"/><stop offset="0.566" stop-color="#1e3d73"/><stop offset="0.622" stop-color="#205394"/><stop offset="0.647" stop-color="#2261a9"/><stop offset="0.672" stop-color="#2d71b1"/><stop offset="0.709" stop-color="#4594c4"/><stop offset="0.722" stop-color="#569fca"/><stop offset="0.747" stop-color="#6cadd1"/><stop offset="0.966" stop-color="#65a8cf"/><stop offset="0.997" stop-color="#64a8ce"/></linearGradient><linearGradient id="r92" x1="0" x2="0" y1="0" y2="1"><stop offset="0.003" stop-color="#3c89be"/><stop offset="0.259" stop-color="#3e8cbf"/><stop offset="0.284" stop-color="#3782ba"/><stop offset="0.334" stop-color="#215fa6"/><stop offset="0.391" stop-color="#1f4782"/><stop offset="0.428" stop-color="#1e3d72"/><stop offset="0.534" stop-color="#1e3c70"/><stop offset="0.578" stop-color="#1e3e73"/><stop offset="0.628" stop-color="#1f4d8b"/><stop offset="0.672" stop-color="#2261a8"/><stop offset="0.722" stop-color="#3883ba"/><stop offset="0.747" stop-color="#3f8dc0"/><stop offset="0.997" stop-color="#3c89be"/></linearGradient><linearGradient id="r93" x1="0" x2="0" y1="0" y2="1"><stop offset="0.003" stop-color="#2e73b2"/><stop offset="0.259" stop-color="#3077b4"/><stop offset="0.291" stop-color="#286bae"/><stop offset="0.309" stop-color="#2161a8"/><stop offset="0.341" stop-color="#205292"/><stop offset="0.397" stop-color="#1e4178"/><stop offset="0.422" stop-color="#1e3d72"/><stop offset="0.541" stop-color="#1e3c70"/><stop offset="0.591" stop-color="#1e3e73"/><stop offset="0.634" stop-color="#1f4984"/><stop offset="0.672" stop-color="#205698"/><stop offset="0.691" stop-color="#215fa7"/><stop offset="0.728" stop-color="#2d72b1"/><stop offset="0.747" stop-color="#3178b5"/><stop offset="0.997" stop-color="#2e73b2"/></linearGradient><linearGradient id="r94" x1="0" x2="0" y1="0" y2="1"><stop offset="0.003" stop-color="#2464aa"/><stop offset="0.259" stop-color="#2668ac"/><stop offset="0.284" stop-color="#2261a9"/><stop offset="0.341" stop-color="#1f4b87"/><stop offset="0.397" stop-color="#1e3e73"/><stop offset="0.522" stop-color="#1e3b70"/><stop offset="0.609" stop-color="#1e3e74"/><stop offset="0.672" stop-color="#1f4e8c"/><stop offset="0.716" stop-color="#2160a8"/><stop offset="0.747" stop-color="#2769ad"/><stop offset="0.997" stop-color="#2464aa"/></linearGradient><linearGradient id="r95" x1="0" x2="0" y1="0" y2="1"><stop offset="0.003" stop-color="#205a9e"/><stop offset="0.259" stop-color="#215da3"/><stop offset="0.291" stop-color="#205698"/><stop offset="0.341" stop-color="#1f4680"/><stop offset="0.391" stop-color="#1e3d72"/><stop offset="0.559" stop-color="#1e3b70"/><stop offset="0.622" stop-color="#1e3e73"/><stop offset="0.672" stop-color="#1f4883"/><stop offset="0.728" stop-color="#205a9f"/><stop offset="0.747" stop-color="#215ea4"/><stop offset="0.997" stop-color="#205a9e"/></linearGradient><linearGradient id="r96" x1="0" x2="0" y1="0" y2="1"><stop offset="0.003" stop-color="#205292"/><stop offset="0.259" stop-color="#205597"/><stop offset="0.291" stop-color="#204f8e"/><stop offset="0.347" stop-color="#1e4178"/><stop offset="0.378" stop-color="#1e3d72"/><stop offset="0.566" stop-color="#1e3b70"/><stop offset="0.634" stop-color="#1e3d72"/><stop offset="0.678" stop-color="#1f467f"/><stop offset="0.728" stop-color="#205293"/><stop offset="0.753" stop-color="#205598"/><stop offset="0.997" stop-color="#205292"/></linearGradient><linearGradient id="r97" x1="0" x2="0" y1="0" y2="1"><stop offset="0.003" stop-color="#1f4c89"/><stop offset="0.259" stop-color="#204f8e"/><stop offset="0.297" stop-color="#1f4984"/><stop offset="0.353" stop-color="#1e3d73"/><stop offset="0.534" stop-color="#1e3b6f"/><stop offset="0.653" stop-color="#1e3e73"/><stop offset="0.734" stop-color="#1f4e8c"/><stop offset="0.759" stop-color="#204f8e"/><stop offset="0.997" stop-color="#1f4c89"/></linearGradient><linearGradient id="r98" x1="0" x2="0" y1="0" y2="1"><stop offset="0.003" stop-color="#1f4782"/><stop offset="0.259" stop-color="#1f4a87"/><stop offset="0.303" stop-color="#1f447c"/><stop offset="0.341" stop-color="#1e3d72"/><stop offset="0.572" stop-color="#1e3b70"/><stop offset="0.666" stop-color="#1e3d72"/><stop offset="0.734" stop-color="#1f4985"/><stop offset="0.766" stop-color="#1f4a87"/><stop offset="0.997" stop-color="#1f4782"/></linearGradient><linearGradient id="r99" x1="0" x2="0" y1="0" y2="1"><stop offset="0.003" stop-color="#1f447d"/><stop offset="0.266" stop-color="#1f4680"/><stop offset="0.334" stop-color="#1e3d72"/><stop offset="0.578" stop-color="#1e3b70"/><stop offset="0.678" stop-color="#1e3d72"/><stop offset="0.741" stop-color="#1f4680"/><stop offset="0.997" stop-color="#1f447d"/></linearGradient><linearGradient id="r100" x1="0" x2="0" y1="0" y2="1"><stop offset="0.003" stop-color="#1e4178"/><stop offset="0.266" stop-color="#1f437b"/><stop offset="0.322" stop-color="#1e3d72"/><stop offset="0.578" stop-color="#1e3b6f"/><stop offset="0.697" stop-color="#1e3e74"/><stop offset="0.747" stop-color="#1f447c"/><stop offset="0.997" stop-color="#1e4178"/></linearGradient><linearGradient id="r101" x1="0" x2="0" y1="0" y2="1"><stop offset="0.003" stop-color="#1e3f74"/><stop offset="0.266" stop-color="#1e4178"/><stop offset="0.322" stop-color="#1e3c71"/><stop offset="0.603" stop-color="#1e3b70"/><stop offset="0.709" stop-color="#1e3e73"/><stop offset="0.759" stop-color="#1e4178"/><stop offset="0.997" stop-color="#1e3f74"/></linearGradient><linearGradient id="r102" x1="0" x2="0" y1="0" y2="1"><stop offset="0.003" stop-color="#1e3d72"/><stop offset="0.266" stop-color="#1e3f75"/><stop offset="0.359" stop-color="#1e3c70"/><stop offset="0.647" stop-color="#1e3c70"/><stop offset="0.734" stop-color="#1e3e74"/><stop offset="0.997" stop-color="#1e3d72"/></linearGradient><linearGradient id="r103" x1="0" x2="0" y1="0" y2="1"><stop offset="0.003" stop-color="#1e3d71"/><stop offset="0.303" stop-color="#1e3c71"/><stop offset="0.616" stop-color="#1e3b70"/><stop offset="0.797" stop-color="#1e3d72"/><stop offset="0.997" stop-color="#1e3d71"/></linearGradient><linearGradient id="r104" x1="0" x2="0" y1="0" y2="1"><stop offset="0.003" stop-color="#1e3c71"/><stop offset="0.353" stop-color="#1e3b70"/><stop offset="0.678" stop-color="#1e3c70"/><stop offset="0.997" stop-color="#1e3c71"/></linearGradient><linearGradient id="r105" x1="0" x2="0" y1="0" y2="1"><stop offset="0.003" stop-color="#1e3c71"/><stop offset="0.372" stop-color="#1e3b6f"/><stop offset="0.716" stop-color="#1e3c71"/><stop offset="0.997" stop-color="#1e3c71"/></linearGradient><linearGradient id="r106" x1="0" x2="0" y1="0" y2="1"><stop offset="0.003" stop-color="#1e3c71"/><stop offset="0.409" stop-color="#1e3b6f"/><stop offset="0.997" stop-color="#1e3c71"/></linearGradient><linearGradient id="r107" x1="0" x2="0" y1="0" y2="1"><stop offset="0.003" stop-color="#1e3c70"/><stop offset="0.684" stop-color="#1e3b70"/><stop offset="0.997" stop-color="#1e3c70"/></linearGradient><linearGradient id="r108" x1="0" x2="0" y1="0" y2="1"><stop offset="0.003" stop-color="#1e3c70"/><stop offset="0.697" stop-color="#1e3b70"/><stop offset="0.997" stop-color="#1e3c70"/></linearGradient><linearGradient id="r109" x1="0" x2="0" y1="0" y2="1"><stop offset="0.003" stop-color="#1e3b70"/><stop offset="0.709" stop-color="#1e3c70"/><stop offset="0.997" stop-color="#1e3b70"/></linearGradient><linearGradient id="r110" x1="0" x2="0" y1="0" y2="1"><stop offset="0.003" stop-color="#1e3b70"/><stop offset="0.728" stop-color="#1e3c70"/><stop offset="0.997" stop-color="#1e3b70"/></linearGradient></defs><rect width="335" height="504" fill="#fff"/><text x="14.5" y="18" font-size="16" font-weight="bold">a</text><text x="14.5" y="148.5" font-size="16" font-weight="bold">b</text><text x="14.5" y="231" font-size="16" font-weight="bold">c</text><rect x="50.6" y="296.6" width="111.4" height="160.5" fill="url(#hl)"/><rect x="173" y="296.6" width="2" height="160.5" fill="#1e3a6e"/><rect x="174" y="296.6" width="2" height="160.5" fill="#1e3a6e"/><rect x="175" y="296.6" width="2" height="160.5" fill="#1e3a6e"/><rect x="176" y="296.6" width="2" height="160.5" fill="#1e3a6e"/><rect x="177" y="296.6" width="2" height="160.5" fill="#1e3a6e"/><rect x="178" y="296.6" width="2" height="160.5" fill="#1e3a6e"/><rect x="179" y="296.6" width="2" height="160.5" fill="#1e3a6e"/><rect x="180" y="296.6" width="2" height="160.5" fill="#1e3a6e"/><rect x="181" y="296.6" width="2" height="160.5" fill="#1e3a6f"/><rect x="182" y="296.6" width="2" height="160.5" fill="#1e3a6f"/><rect x="183" y="296.6" width="2" height="160.5" fill="#1e3a6f"/><rect x="184" y="296.6" width="2" height="160.5" fill="#1e3a6f"/><rect x="185" y="296.6" width="2" height="160.5" fill="#1e3a6f"/><rect x="186" y="296.6" width="2" height="160.5" fill="#1e3a6f"/><rect x="187" y="296.6" width="2" height="160.5" fill="url(#r14)"/><rect x="188" y="296.6" width="2" height="160.5" fill="url(#r15)"/><rect x="189" y="296.6" width="2" height="160.5" fill="url(#r16)"/><rect x="190" y="296.6" width="2" height="160.5" fill="url(#r17)"/><rect x="191" y="296.6" width="2" height="160.5" fill="url(#r18)"/><rect x="192" y="296.6" width="2" height="160.5" fill="url(#r19)"/><rect x="193" y="296.6" width="2" height="160.5" fill="url(#r20)"/><rect x="194" y="296.6" width="2" height="160.5" fill="url(#r21)"/><rect x="195" y="296.6" width="2" height="160.5" fill="url(#r22)"/><rect x="196" y="296.6" width="2" height="160.5" fill="url(#r23)"/><rect x="197" y="296.6" width="2" height="160.5" fill="url(#r24)"/><rect x="198" y="296.6" width="2" height="160.5" fill="url(#r25)"/><rect x="199" y="296.6" width="2" height="160.5" fill="url(#r26)"/><rect x="200" y="296.6" width="2" height="160.5" fill="url(#r27)"/><rect x="201" y="296.6" width="2" height="160.5" fill="url(#r28)"/><rect x="202" y="296.6" width="2" height="160.5" fill="url(#r29)"/><rect x="203" y="296.6" width="2" height="160.5" fill="url(#r30)"/><rect x="204" y="296.6" width="2" height="160.5" fill="url(#r31)"/><rect x="205" y="296.6" width="2" height="160.5" fill="url(#r32)"/><rect x="206" y="296.6" width="2" height="160.5" fill="url(#r33)"/><rect x="207" y="296.6" width="2" height="160.5" fill="url(#r34)"/><rect x="208" y="296.6" width="2" height="160.5" fill="url(#r35)"/><rect x="209" y="296.6" width="2" height="160.5" fill="url(#r36)"/><rect x="210" y="296.6" width="2" height="160.5" fill="url(#r37)"/><rect x="211" y="296.6" width="2" height="160.5" fill="url(#r38)"/><rect x="212" y="296.6" width="2" height="160.5" fill="url(#r39)"/><rect x="213" y="296.6" width="2" height="160.5" fill="url(#r40)"/><rect x="214" y="296.6" width="2" height="160.5" fill="url(#r41)"/><rect x="215" y="296.6" width="2" height="160.5" fill="url(#r42)"/><rect x="216" y="296.6" width="2" height="160.5" fill="url(#r43)"/><rect x="217" y="296.6" width="2" height="160.5" fill="url(#r44)"/><rect x="218" y="296.6" width="2" height="160.5" fill="url(#r45)"/><rect x="219" y="296.6" width="2" height="160.5" fill="url(#r46)"/><rect x="220" y="296.6" width="2" height="160.5" fill="url(#r47)"/><rect x="221" y="296.6" width="2" height="160.5" fill="url(#r48)"/><rect x="222" y="296.6" width="2" height="160.5" fill="url(#r49)"/><rect x="223" y="296.6" width="2" height="160.5" fill="url(#r50)"/><rect x="224" y="296.6" width="2" height="160.5" fill="url(#r51)"/><rect x="225" y="296.6" width="2" height="160.5" fill="url(#r52)"/><rect x="226" y="296.6" width="2" height="160.5" fill="url(#r53)"/><rect x="227" y="296.6" width="2" height="160.5" fill="url(#r54)"/><rect x="228" y="296.6" width="2" height="160.5" fill="url(#r55)"/><rect x="229" y="296.6" width="2" height="160.5" fill="url(#r56)"/><rect x="230" y="296.6" width="2" height="160.5" fill="url(#r57)"/><rect x="231" y="296.6" width="2" height="160.5" fill="url(#r58)"/><rect x="232" y="296.6" width="2" height="160.5" fill="url(#r59)"/><rect x="233" y="296.6" width="2" height="160.5" fill="url(#r60)"/><rect x="234" y="296.6" width="2" height="160.5" fill="url(#r61)"/><rect x="235" y="296.6" width="2" height="160.5" fill="url(#r62)"/><rect x="236" y="296.6" width="2" height="160.5" fill="url(#r63)"/><rect x="237" y="296.6" width="2" height="160.5" fill="url(#r64)"/><rect x="238" y="296.6" width="2" height="160.5" fill="url(#r65)"/><rect x="239" y="296.6" width="2" height="160.5" fill="url(#r66)"/><rect x="240" y="296.6" width="2" height="160.5" fill="url(#r67)"/><rect x="241" y="296.6" width="2" height="160.5" fill="url(#r68)"/><rect x="242" y="296.6" width="2" height="160.5" fill="url(#r69)"/><rect x="243" y="296.6" width="2" height="160.5" fill="url(#r70)"/><rect x="244" y="296.6" width="2" height="160.5" fill="url(#r71)"/><rect x="245" y="296.6" width="2" height="160.5" fill="url(#r72)"/><rect x="246" y="296.6" width="2" height="160.5" fill="url(#r73)"/><rect x="247" y="296.6" width="2" height="160.5" fill="url(#r74)"/><rect x="248" y="296.6" width="2" height="160.5" fill="url(#r75)"/><rect x="249" y="296.6" width="2" height="160.5" fill="url(#r76)"/><rect x="250" y="296.6" width="2" height="160.5" fill="url(#r77)"/><rect x="251" y="296.6" width="2" height="160.5" fill="url(#r78)"/><rect x="252" y="296.6" width="2" height="160.5" fill="url(#r79)"/><rect x="253" y="296.6" width="2" height="160.5" fill="url(#r80)"/><rect x="254" y="296.6" width="2" height="160.5" fill="url(#r81)"/><rect x="255" y="296.6" width="2" height="160.5" fill="url(#r82)"/><rect x="256" y="296.6" width="2" height="160.5" fill="url(#r83)"/><rect x="257" y="296.6" width="2" height="160.5" fill="url(#r84)"/><rect x="258" y="296.6" width="2" height="160.5" fill="url(#r85)"/><rect x="259" y="296.6" width="2" height="160.5" fill="url(#r86)"/><rect x="260" y="296.6" width="2" height="160.5" fill="url(#r87)"/><rect x="261" y="296.6" width="2" height="160.5" fill="url(#r88)"/><rect x="262" y="296.6" width="2" height="160.5" fill="url(#r89)"/><rect x="263" y="296.6" width="2" height="160.5" fill="url(#r90)"/><rect x="264" y="296.6" width="2" height="160.5" fill="url(#r91)"/><rect x="265" y="296.6" width="2" height="160.5" fill="url(#r92)"/><rect x="266" y="296.6" width="2" height="160.5" fill="url(#r93)"/><rect x="267" y="296.6" width="2" height="160.5" fill="url(#r94)"/><rect x="268" y="296.6" width="2" height="160.5" fill="url(#r95)"/><rect x="269" y="296.6" width="2" height="160.5" fill="url(#r96)"/><rect x="270" y="296.6" width="2" height="160.5" fill="url(#r97)"/><rect x="271" y="296.6" width="2" height="160.5" fill="url(#r98)"/><rect x="272" y="296.6" width="2" height="160.5" fill="url(#r99)"/><rect x="273" y="296.6" width="2" height="160.5" fill="url(#r100)"/><rect x="274" y="296.6" width="2" height="160.5" fill="url(#r101)"/><rect x="275" y="296.6" width="2" height="160.5" fill="url(#r102)"/><rect x="276" y="296.6" width="2" height="160.5" fill="url(#r103)"/><rect x="277" y="296.6" width="2" height="160.5" fill="url(#r104)"/><rect x="278" y="296.6" width="2" height="160.5" fill="url(#r105)"/><rect x="279" y="296.6" width="2" height="160.5" fill="url(#r106)"/><rect x="280" y="296.6" width="2" height="160.5" fill="url(#r107)"/><rect x="281" y="296.6" width="2" height="160.5" fill="url(#r108)"/><rect x="282" y="296.6" width="2" height="160.5" fill="url(#r109)"/><rect x="283" y="296.6" width="1.3" height="160.5" fill="url(#r110)"/><rect x="50.3" y="296.3" width="112" height="161.1" fill="none" stroke="#b4b4b4" stroke-width="0.6"/><rect x="172.7" y="296.3" width="111.9" height="161.1" fill="none" stroke="#b4b4b4" stroke-width="0.6"/><rect x="50.7" y="238.5" width="111" height="48" fill="none" stroke="#8c8c8c" stroke-width="1"/><rect x="172.9" y="238.5" width="111.2" height="48" fill="none" stroke="#8c8c8c" stroke-width="1"/><polyline fill="none" stroke="#1c2e6c" stroke-width="0.9" points="50.6,284.19 51.1,284.19 51.6,284.18 52.1,284.17 52.6,284.17 53.1,284.16 53.6,284.15 54.1,284.14 54.6,284.13 55.1,284.12 55.6,284.11 56.1,284.10 56.6,284.09 57.1,284.08 57.6,284.06 58.1,284.05 58.6,284.03 59.1,284.02 59.6,284.00 60.1,283.98 60.6,283.96 61.1,283.94 61.6,283.91 62.1,283.89 62.6,283.86 63.1,283.82 63.6,283.79 64.1,283.75 64.6,283.71 65.1,283.66 65.6,283.61 66.1,283.55 66.6,283.48 67.1,283.40 67.6,283.32 68.1,283.22 68.6,283.11 69.1,282.98 69.6,282.83 70.1,282.65 70.6,282.45 71.1,282.20 71.6,281.92 72.1,281.57 72.6,281.15 73.1,280.65 73.6,280.03 74.1,279.30 74.6,278.42 75.1,277.41 75.6,276.28 76.1,275.13 76.6,274.10 77.1,273.41 77.6,273.23 78.1,273.61 78.6,274.44 79.1,275.53 79.6,276.68 80.1,277.77 80.6,278.73 81.1,279.54 81.6,280.22 82.1,280.79 82.6,281.25 83.1,281.63 83.6,281.95 84.1,282.22 84.6,282.44 85.1,282.62 85.6,282.78 86.1,282.92 86.6,283.03 87.1,283.13 87.6,283.22 88.1,283.29 88.6,283.35 89.1,283.41 89.6,283.46 90.1,283.50 90.6,283.54 91.1,283.57 91.6,283.60 92.1,283.62 92.6,283.64 93.1,283.66 93.6,283.67 94.1,283.68 94.6,283.69 95.1,283.70 95.6,283.71 96.1,283.71 96.6,283.71 97.1,283.71 97.6,283.71 98.1,283.71 98.6,283.70 99.1,283.70 99.6,283.69 100.1,283.68 100.6,283.67 101.1,283.65 101.6,283.64 102.1,283.62 102.6,283.60 103.1,283.58 103.6,283.56 104.1,283.54 104.6,283.51 105.1,283.48 105.6,283.45 106.1,283.41 106.6,283.38 107.1,283.34 107.6,283.29 108.1,283.24 108.6,283.19 109.1,283.13 109.6,283.07 110.1,283.00 110.6,282.92 111.1,282.84 111.6,282.74 112.1,282.64 112.6,282.53 113.1,282.40 113.6,282.27 114.1,282.11 114.6,281.94 115.1,281.74 115.6,281.52 116.1,281.28 116.6,280.99 117.1,280.67 117.6,280.30 118.1,279.87 118.6,279.37 119.1,278.79 119.6,278.11 120.1,277.29 120.6,276.33 121.1,275.16 121.6,273.75 122.1,272.03 122.6,269.93 123.1,267.36 123.6,264.23 124.1,260.47 124.6,256.09 125.1,251.26 125.6,246.47 126.1,242.54 126.6,240.43 127.1,240.78 127.6,243.49 128.1,247.77 128.6,252.63 129.1,257.37 129.6,261.59 130.1,265.17 130.6,268.14 131.1,270.57 131.6,272.56 132.1,274.19 132.6,275.53 133.1,276.64 133.6,277.56 134.1,278.34 134.6,278.99 135.1,279.55 135.6,280.03 136.1,280.44 136.6,280.80 137.1,281.11 137.6,281.39 138.1,281.63 138.6,281.85 139.1,282.04 139.6,282.21 140.1,282.36 140.6,282.50 141.1,282.62 141.6,282.73 142.1,282.84 142.6,282.93 143.1,283.01 143.6,283.09 144.1,283.16 144.6,283.23 145.1,283.29 145.6,283.35 146.1,283.40 146.6,283.45 147.1,283.49 147.6,283.53 148.1,283.57 148.6,283.61 149.1,283.64 149.6,283.67 150.1,283.70 150.6,283.73 151.1,283.76 151.6,283.78 152.1,283.80 152.6,283.83 153.1,283.85 153.6,283.87 154.1,283.89 154.6,283.90 155.1,283.92 155.6,283.94 156.1,283.95 156.6,283.97 157.1,283.98 157.6,283.99 158.1,284.01 158.6,284.02 159.1,284.03 159.6,284.04 160.1,284.05 160.6,284.06 161.1,284.07 161.6,284.08"/><polyline fill="none" stroke="#8e1426" stroke-width="1.2" points="50.6,284.19 51.1,284.19 51.6,284.18 52.1,284.17 52.6,284.17 53.1,284.16 53.6,284.15 54.1,284.14 54.6,284.13 55.1,284.12 55.6,284.11 56.1,284.10 56.6,284.09 57.1,284.08 57.6,284.06 58.1,284.05 58.6,284.03 59.1,284.02 59.6,284.00 60.1,283.98 60.6,283.96 61.1,283.94 61.6,283.91 62.1,283.89 62.6,283.86 63.1,283.82 63.6,283.79 64.1,283.75 64.6,283.71 65.1,283.66 65.6,283.61 66.1,283.55 66.6,283.48 67.1,283.40 67.6,283.32 68.1,283.22 68.6,283.11 69.1,282.98 69.6,282.83 70.1,282.65 70.6,282.45 71.1,282.20 71.6,281.92 72.1,281.57 72.6,281.15 73.1,280.65 73.6,280.03 74.1,279.30 74.6,278.42 75.1,277.41 75.6,276.28 76.1,275.13 76.6,274.10 77.1,273.41 77.6,273.23 78.1,273.61 78.6,274.44 79.1,275.53 79.6,276.68 80.1,277.77 80.6,278.73 81.1,279.54 81.6,280.22 82.1,280.79 82.6,281.25 83.1,281.63 83.6,281.95 84.1,282.22 84.6,282.44 85.1,282.62 85.6,282.78 86.1,282.92 86.6,283.03 87.1,283.13 87.6,283.22 88.1,283.29 88.6,283.35 89.1,283.41 89.6,283.46 90.1,283.50 90.6,283.54 91.1,283.57 91.6,283.60 92.1,283.62 92.6,283.64 93.1,283.66 93.6,283.67 94.1,283.68 94.6,283.69 95.1,283.70 95.6,283.71 96.1,283.71 96.6,283.71 97.1,283.71 97.6,283.71 98.1,283.71 98.6,283.70 99.1,283.70 99.6,283.69 100.1,283.68 100.6,283.67 101.1,283.65 101.6,283.64 102.1,283.62 102.6,283.60 103.1,283.58 103.6,283.56 104.1,283.54 104.6,283.51 105.1,283.48 105.6,283.45 106.1,283.41 106.6,283.38 107.1,283.34 107.6,283.29 108.1,283.24 108.6,283.19 109.1,283.13 109.6,283.07 110.1,283.00 110.6,282.92 111.1,282.84 111.6,282.74 112.1,282.64 112.6,282.53 113.1,282.40 113.6,282.27 114.1,282.11 114.6,281.94 115.1,281.74 115.6,281.52 116.1,281.28 116.6,280.99 117.1,280.67 117.6,280.30 118.1,279.87 118.6,279.37 119.1,278.79 119.6,278.11 120.1,277.29 120.6,276.33 121.1,275.16 121.6,273.75 122.1,272.03 122.6,269.93 123.1,267.36 123.6,264.23 124.1,260.47 124.6,256.09 125.1,251.26 125.6,246.47 126.1,242.54 126.6,240.43 127.1,240.78 127.6,243.49 128.1,247.77 128.6,252.63 129.1,257.37 129.6,261.59 130.1,265.17 130.6,268.14 131.1,270.57 131.6,272.56 132.1,274.19 132.6,275.53 133.1,276.64 133.6,277.56 134.1,278.34 134.6,278.99 135.1,279.55 135.6,280.03 136.1,280.44 136.6,280.80 137.1,281.11 137.6,281.39 138.1,281.63 138.6,281.85 139.1,282.04 139.6,282.21 140.1,282.36 140.6,282.50 141.1,282.62 141.6,282.73 142.1,282.84 142.6,282.93 143.1,283.01 143.6,283.09 144.1,283.16 144.6,283.23 145.1,283.29 145.6,283.35 146.1,283.40 146.6,283.45 147.1,283.49 147.6,283.53 148.1,283.57 148.6,283.61 149.1,283.64 149.6,283.67 150.1,283.70 150.6,283.73 151.1,283.76 151.6,283.78 152.1,283.80 152.6,283.83 153.1,283.85 153.6,283.87 154.1,283.89 154.6,283.90 155.1,283.92 155.6,283.94 156.1,283.95 156.6,283.97 157.1,283.98 157.6,283.99 158.1,284.01 158.6,284.02 159.1,284.03 159.6,284.04 160.1,284.05 160.6,284.06 161.1,284.07 161.6,284.08"/><polyline fill="none" stroke="#8e1426" stroke-width="1.2" points="173.0,284.24 173.5,284.24 174.0,284.24 174.5,284.23 175.0,284.23 175.5,284.23 176.0,284.22 176.5,284.22 177.0,284.22 177.5,284.21 178.0,284.21 178.5,284.20 179.0,284.20 179.5,284.20 180.0,284.19 180.5,284.19 181.0,284.18 181.5,284.18 182.0,284.17 182.5,284.17 183.0,284.16 183.5,284.16 184.0,284.15 184.5,284.14 185.0,284.14 185.5,284.13 186.0,284.12 186.5,284.12 187.0,284.11 187.5,284.10 188.0,284.10 188.5,284.09 189.0,284.08 189.5,284.07 190.0,284.06 190.5,284.05 191.0,284.04 191.5,284.03 192.0,284.02 192.5,284.01 193.0,283.99 193.5,283.98 194.0,283.97 194.5,283.95 195.0,283.94 195.5,283.92 196.0,283.90 196.5,283.88 197.0,283.87 197.5,283.84 198.0,283.82 198.5,283.80 199.0,283.77 199.5,283.75 200.0,283.72 200.5,283.69 201.0,283.65 201.5,283.62 202.0,283.58 202.5,283.54 203.0,283.49 203.5,283.44 204.0,283.39 204.5,283.33 205.0,283.26 205.5,283.19 206.0,283.11 206.5,283.02 207.0,282.92 207.5,282.80 208.0,282.67 208.5,282.53 209.0,282.36 209.5,282.16 210.0,281.94 210.5,281.67 211.0,281.36 211.5,280.99 212.0,280.55 212.5,280.02 213.0,279.39 213.5,278.63 214.0,277.72 214.5,276.65 215.0,275.44 215.5,274.15 216.0,272.92 216.5,271.93 217.0,271.42 217.5,271.51 218.0,272.15 218.5,273.17 219.0,274.33 219.5,275.47 220.0,276.48 220.5,277.34 221.0,278.03 221.5,278.58 222.0,279.00 222.5,279.31 223.0,279.53 223.5,279.67 224.0,279.73 224.5,279.73 225.0,279.66 225.5,279.54 226.0,279.35 226.5,279.09 227.0,278.76 227.5,278.35 228.0,277.85 228.5,277.23 229.0,276.49 229.5,275.58 230.0,274.48 230.5,273.14 231.0,271.50 231.5,269.50 232.0,267.05 232.5,264.07 233.0,260.50 233.5,256.33 234.0,251.71 234.5,247.02 235.0,242.97 235.5,240.45 236.0,240.16 236.5,242.21 237.0,246.00 237.5,250.64 238.0,255.36 238.5,259.70 239.0,263.46 239.5,266.62 240.0,269.23 240.5,271.39 241.0,273.16 241.5,274.62 242.0,275.83 242.5,276.84 243.0,277.69 243.5,278.41 244.0,279.03 244.5,279.55 245.0,280.01 245.5,280.40 246.0,280.75 246.5,281.05 247.0,281.32 247.5,281.55 248.0,281.76 248.5,281.95 249.0,282.12 249.5,282.27 250.0,282.41 250.5,282.53 251.0,282.65 251.5,282.75 252.0,282.84 252.5,282.93 253.0,283.01 253.5,283.08 254.0,283.15 254.5,283.21 255.0,283.27 255.5,283.32 256.0,283.37 256.5,283.42 257.0,283.46 257.5,283.50 258.0,283.54 258.5,283.58 259.0,283.61 259.5,283.64 260.0,283.67 260.5,283.70 261.0,283.72 261.5,283.75 262.0,283.77 262.5,283.80 263.0,283.82 263.5,283.84 264.0,283.85 264.5,283.87 265.0,283.89 265.5,283.91 266.0,283.92 266.5,283.94 267.0,283.95 267.5,283.96 268.0,283.98 268.5,283.99 269.0,284.00 269.5,284.01 270.0,284.02 270.5,284.03 271.0,284.04 271.5,284.05 272.0,284.06 272.5,284.07 273.0,284.08 273.5,284.09 274.0,284.09 274.5,284.10 275.0,284.11 275.5,284.12 276.0,284.12 276.5,284.13 277.0,284.14 277.5,284.14 278.0,284.15 278.5,284.15 279.0,284.16 279.5,284.16 280.0,284.17 280.5,284.17 281.0,284.18 281.5,284.18 282.0,284.19 282.5,284.19 283.0,284.20 283.5,284.20 284.0,284.20"/><polyline fill="none" stroke="#1c2e6c" stroke-width="1.2" points="173.0,284.21 173.5,284.20 174.0,284.20 174.5,284.19 175.0,284.18 175.5,284.18 176.0,284.17 176.5,284.16 177.0,284.15 177.5,284.14 178.0,284.14 178.5,284.13 179.0,284.11 179.5,284.10 180.0,284.09 180.5,284.08 181.0,284.06 181.5,284.05 182.0,284.03 182.5,284.02 183.0,284.00 183.5,283.98 184.0,283.95 184.5,283.93 185.0,283.90 185.5,283.88 186.0,283.84 186.5,283.81 187.0,283.77 187.5,283.73 188.0,283.68 188.5,283.63 189.0,283.57 189.5,283.50 190.0,283.43 190.5,283.34 191.0,283.25 191.5,283.14 192.0,283.01 192.5,282.86 193.0,282.69 193.5,282.48 194.0,282.24 194.5,281.95 195.0,281.61 195.5,281.19 196.0,280.69 196.5,280.08 197.0,279.35 197.5,278.48 198.0,277.47 198.5,276.35 199.0,275.20 199.5,274.17 200.0,273.46 200.5,273.27 201.0,273.63 201.5,274.46 202.0,275.54 202.5,276.69 203.0,277.78 203.5,278.75 204.0,279.57 204.5,280.26 205.0,280.82 205.5,281.29 206.0,281.68 206.5,282.00 207.0,282.27 207.5,282.49 208.0,282.68 208.5,282.84 209.0,282.98 209.5,283.10 210.0,283.20 210.5,283.29 211.0,283.37 211.5,283.43 212.0,283.49 212.5,283.54 213.0,283.59 213.5,283.63 214.0,283.67 214.5,283.70 215.0,283.73 215.5,283.75 216.0,283.77 216.5,283.79 217.0,283.81 217.5,283.82 218.0,283.84 218.5,283.85 219.0,283.86 219.5,283.87 220.0,283.88 220.5,283.88 221.0,283.89 221.5,283.89 222.0,283.89 222.5,283.90 223.0,283.90 223.5,283.90 224.0,283.90 224.5,283.90 225.0,283.89 225.5,283.89 226.0,283.89 226.5,283.88 227.0,283.87 227.5,283.87 228.0,283.86 228.5,283.85 229.0,283.84 229.5,283.83 230.0,283.82 230.5,283.81 231.0,283.80 231.5,283.78 232.0,283.77 232.5,283.75 233.0,283.73 233.5,283.71 234.0,283.69 234.5,283.67 235.0,283.65 235.5,283.62 236.0,283.59 236.5,283.56 237.0,283.53 237.5,283.50 238.0,283.46 238.5,283.42 239.0,283.38 239.5,283.33 240.0,283.28 240.5,283.23 241.0,283.17 241.5,283.11 242.0,283.04 242.5,282.96 243.0,282.88 243.5,282.79 244.0,282.69 244.5,282.59 245.0,282.47 245.5,282.33 246.0,282.19 246.5,282.02 247.0,281.84 247.5,281.64 248.0,281.41 248.5,281.15 249.0,280.85 249.5,280.51 250.0,280.13 250.5,279.68 251.0,279.16 251.5,278.56 252.0,277.85 252.5,277.01 253.0,276.01 253.5,274.82 254.0,273.38 254.5,271.63 255.0,269.50 255.5,266.92 256.0,263.79 256.5,260.06 257.0,255.75 257.5,251.05 258.0,246.41 258.5,242.59 259.0,240.48 259.5,240.69 260.0,243.16 260.5,247.19 261.0,251.89 261.5,256.54 262.0,260.76 262.5,264.38 263.0,267.41 263.5,269.91 264.0,271.97 264.5,273.66 265.0,275.05 265.5,276.21 266.0,277.18 266.5,278.00 267.0,278.69 267.5,279.28 268.0,279.78 268.5,280.22 269.0,280.60 269.5,280.93 270.0,281.22 270.5,281.47 271.0,281.70 271.5,281.90 272.0,282.08 272.5,282.24 273.0,282.39 273.5,282.52 274.0,282.64 274.5,282.75 275.0,282.85 275.5,282.94 276.0,283.02 276.5,283.09 277.0,283.16 277.5,283.23 278.0,283.29 278.5,283.34 279.0,283.39 279.5,283.44 280.0,283.48 280.5,283.53 281.0,283.56 281.5,283.60 282.0,283.63 282.5,283.67 283.0,283.69 283.5,283.72 284.0,283.75"/><line x1="76.3" x2="76.3" y1="238.5" y2="242.5" stroke="#222" stroke-width="1"/><line x1="76.3" x2="76.3" y1="296.6" y2="302.6" stroke="#111" stroke-width="0.9"/><line x1="76.3" x2="76.3" y1="457.1" y2="451.1" stroke="#111" stroke-width="0.9"/><line x1="119.2" x2="119.2" y1="238.5" y2="242.5" stroke="#222" stroke-width="1"/><line x1="119.2" x2="119.2" y1="296.6" y2="302.6" stroke="#111" stroke-width="0.9"/><line x1="119.2" x2="119.2" y1="457.1" y2="451.1" stroke="#111" stroke-width="0.9"/><line x1="198.7" x2="198.7" y1="238.5" y2="242.5" stroke="#222" stroke-width="1"/><line x1="198.7" x2="198.7" y1="296.6" y2="302.6" stroke="#111" stroke-width="0.9"/><line x1="198.7" x2="198.7" y1="457.1" y2="451.1" stroke="#111" stroke-width="0.9"/><line x1="241.6" x2="241.6" y1="238.5" y2="242.5" stroke="#222" stroke-width="1"/><line x1="241.6" x2="241.6" y1="296.6" y2="302.6" stroke="#111" stroke-width="0.9"/><line x1="241.6" x2="241.6" y1="457.1" y2="451.1" stroke="#111" stroke-width="0.9"/><line x1="50.6" x2="56.6" y1="430.4" y2="430.4" stroke="#111" stroke-width="0.9"/><line x1="284.3" x2="278.3" y1="430.4" y2="430.4" stroke="#111" stroke-width="0.9"/><line x1="50.6" x2="56.6" y1="403.6" y2="403.6" stroke="#111" stroke-width="0.9"/><line x1="284.3" x2="278.3" y1="403.6" y2="403.6" stroke="#111" stroke-width="0.9"/><line x1="50.6" x2="56.6" y1="350.1" y2="350.1" stroke="#111" stroke-width="0.9"/><line x1="284.3" x2="278.3" y1="350.1" y2="350.1" stroke="#111" stroke-width="0.9"/><line x1="50.6" x2="56.6" y1="323.4" y2="323.4" stroke="#111" stroke-width="0.9"/><line x1="284.3" x2="278.3" y1="323.4" y2="323.4" stroke="#111" stroke-width="0.9"/><line x1="50.7" x2="56.6" y1="240.5" y2="240.5" stroke="#333" stroke-width="1"/><line x1="155.8" x2="161.7" y1="240.5" y2="240.5" stroke="#333" stroke-width="1"/><line x1="279" x2="284.1" y1="240.5" y2="240.5" stroke="#333" stroke-width="1"/><line x1="51.3" x2="162" y1="377" y2="377" stroke="#fff" stroke-width="1.6" stroke-dasharray="7.5 2.6"/><line x1="51.3" x2="162" y1="456.3" y2="456.3" stroke="#fff" stroke-width="1.6" stroke-dasharray="7.5 2.6"/><line x1="173.7" x2="284.3" y1="377" y2="377" stroke="#fff" stroke-width="1.6" stroke-dasharray="7.5 2.6"/><line x1="173.7" x2="284.3" y1="456.3" y2="456.3" stroke="#fff" stroke-width="1.6" stroke-dasharray="7.5 2.6"/><text x="76.3" y="231" font-size="12.3" text-anchor="middle">100</text><text x="76.3" y="472" font-size="12.3" text-anchor="middle">100</text><text x="119.2" y="231" font-size="12.3" text-anchor="middle">105</text><text x="119.2" y="472" font-size="12.3" text-anchor="middle">105</text><text x="162.0" y="231" font-size="12.3" text-anchor="middle">110</text><text x="162.0" y="472" font-size="12.3" text-anchor="middle">110</text><text x="198.7" y="231" font-size="12.3" text-anchor="middle">100</text><text x="198.7" y="472" font-size="12.3" text-anchor="middle">100</text><text x="241.6" y="231" font-size="12.3" text-anchor="middle">105</text><text x="241.6" y="472" font-size="12.3" text-anchor="middle">105</text><text x="284.4" y="231" font-size="12.3" text-anchor="middle">110</text><text x="284.4" y="472" font-size="12.3" text-anchor="middle">110</text><text x="46" y="461.7" font-size="12.3" text-anchor="end">0</text><text x="289.5" y="461.7" font-size="12.3">0</text><text x="46" y="435.0" font-size="12.3" text-anchor="end">30</text><text x="289.5" y="435.0" font-size="12.3">30</text><text x="46" y="408.2" font-size="12.3" text-anchor="end">60</text><text x="289.5" y="408.2" font-size="12.3">60</text><text x="46" y="381.5" font-size="12.3" text-anchor="end">90</text><text x="289.5" y="381.5" font-size="12.3">90</text><text x="46" y="354.7" font-size="12.3" text-anchor="end">120</text><text x="289.5" y="354.7" font-size="12.3">120</text><text x="46" y="328.0" font-size="12.3" text-anchor="end">150</text><text x="289.5" y="328.0" font-size="12.3">150</text><text x="46" y="301.2" font-size="12.3" text-anchor="end">180</text><text x="289.5" y="301.2" font-size="12.3">180</text><text x="46" y="245" font-size="12.3" text-anchor="end">1</text><text x="46" y="288.5" font-size="12.3" text-anchor="end">0</text><text x="289" y="245" font-size="12.3">1</text><text x="289" y="288.5" font-size="12.3">0</text><line x1="57.9" x2="70.2" y1="251" y2="251" stroke="#27305f" stroke-width="1.3"/><line x1="57.9" x2="70.2" y1="264.5" y2="264.5" stroke="#8e1426" stroke-width="1.2"/><text x="74.4" y="253.5" font-size="8.4">Z(XX)Z</text><text x="74.4" y="267" font-size="8.4">Z(YX)Z</text><line x1="97.3" x2="100.5" y1="246.6" y2="246.6" stroke="#444" stroke-width="0.8"/><line x1="97.3" x2="100.5" y1="260.1" y2="260.1" stroke="#444" stroke-width="0.8"/><line x1="180.4" x2="192.7" y1="251" y2="251" stroke="#27305f" stroke-width="1.3"/><line x1="180.4" x2="192.7" y1="264.5" y2="264.5" stroke="#8e1426" stroke-width="1.2"/><text x="196.9" y="253.5" font-size="8.4">Z(XX)Z</text><text x="196.9" y="267" font-size="8.4">Z(YX)Z</text><line x1="219.8" x2="223.0" y1="246.6" y2="246.6" stroke="#444" stroke-width="0.8"/><line x1="219.8" x2="223.0" y1="260.1" y2="260.1" stroke="#444" stroke-width="0.8"/><text x="53.7" y="374.4" font-size="6.9" font-weight="bold" fill="#fff" textLength="17.4" lengthAdjust="spacingAndGlyphs">Z(YX)<tspan text-decoration="overline">Z</tspan></text><text x="53.7" y="454.0" font-size="6.9" font-weight="bold" fill="#fff" textLength="17.4" lengthAdjust="spacingAndGlyphs">Z(XX)<tspan text-decoration="overline">Z</tspan></text><text x="176.1" y="374.4" font-size="6.9" font-weight="bold" fill="#fff" textLength="17.4" lengthAdjust="spacingAndGlyphs">Z(YX)<tspan text-decoration="overline">Z</tspan></text><text x="176.1" y="454.0" font-size="6.9" font-weight="bold" fill="#fff" textLength="17.4" lengthAdjust="spacingAndGlyphs">Z(XX)<tspan text-decoration="overline">Z</tspan></text><text transform="translate(20.4,427.6) rotate(-90)" font-size="12.2">Polarizer angle (<tspan font-size="6.5" dx="3" dy="-8">o</tspan><tspan dx="3.3" dy="8">)</tspan></text><text transform="translate(324.6,427.4) rotate(-90)" font-size="12.2">Polarizer angle (<tspan font-size="6.5" dx="3" dy="-8">o</tspan><tspan dx="3.3" dy="8">)</tspan></text><text x="116.3" y="490.6" font-size="12.3">Raman shift (cm<tspan font-size="8" dx="0.3" dy="-9">−1</tspan><tspan dx="0" dy="9">)</tspan></text><defs><radialGradient id="gp" cx="0.38" cy="0.35" r="0.7"><stop offset="0" stop-color="#9c68cc"/><stop offset="0.55" stop-color="#8046bc"/><stop offset="1" stop-color="#62309c"/></radialGradient><radialGradient id="gg" cx="0.38" cy="0.35" r="0.7"><stop offset="0" stop-color="#f2f2f2"/><stop offset="0.6" stop-color="#c6c6c6"/><stop offset="1" stop-color="#9c9c9c"/></radialGradient><radialGradient id="gr" cx="0.38" cy="0.35" r="0.7"><stop offset="0" stop-color="#ff3a3a"/><stop offset="0.6" stop-color="#f01010"/><stop offset="1" stop-color="#c8000c"/></radialGradient><g id="fa"><polyline points="22.7,48 47.8,5.5 66.2,48.4" fill="none" stroke="#1a1a1a" stroke-width="0.75"/><polyline points="47.8,5.5 55.3,46.6" fill="none" stroke="#1a1a1a" stroke-width="0.75"/><polyline points="22.7,48 30.2,89.1 48.3,132 41.1,90.9 22.7,48" fill="none" stroke="#1a1a1a" stroke-width="0.75"/><polyline points="55.3,46.6 30.2,89.1" fill="none" stroke="#1a1a1a" stroke-width="0.75"/><polyline points="55.3,46.6 73.7,89.5 48.3,132" fill="none" stroke="#1a1a1a" stroke-width="0.75"/><polyline points="66.2,48.4 73.7,89.5" fill="none" stroke="#1a1a1a" stroke-width="0.75"/><polyline points="66.2,48.4 41.1,90.9" fill="none" stroke="#1a1a1a" stroke-width="0.75"/></g><g id="aa"><line x1="22.3" y1="90.8" x2="17.1" y2="86.2" stroke="#b4b4b4" stroke-width="1.5"/><line x1="17.1" y1="86.2" x2="11.9" y2="81.7" stroke="#7a48bc" stroke-width="1.5"/><line x1="22.3" y1="90.8" x2="21" y2="85" stroke="#b4b4b4" stroke-width="1.5"/><line x1="21" y1="85" x2="19.6" y2="79.3" stroke="#7a48bc" stroke-width="1.5"/><line x1="22.3" y1="90.8" x2="29.5" y2="86.2" stroke="#b4b4b4" stroke-width="1.5"/><line x1="29.5" y1="86.2" x2="36.7" y2="81.7" stroke="#7a48bc" stroke-width="1.5"/><line x1="22.3" y1="90.8" x2="15.9" y2="95.4" stroke="#b4b4b4" stroke-width="1.5"/><line x1="15.9" y1="95.4" x2="9.6" y2="100.1" stroke="#7a48bc" stroke-width="1.5"/><line x1="22.3" y1="90.8" x2="23.7" y2="97" stroke="#b4b4b4" stroke-width="1.5"/><line x1="23.7" y1="97" x2="25.1" y2="103.2" stroke="#7a48bc" stroke-width="1.5"/><line x1="22.3" y1="90.8" x2="28.4" y2="95.3" stroke="#b4b4b4" stroke-width="1.5"/><line x1="28.4" y1="95.3" x2="34.4" y2="99.8" stroke="#7a48bc" stroke-width="1.5"/><line x1="48" y1="90.3" x2="42.4" y2="86" stroke="#b4b4b4" stroke-width="1.5"/><line x1="42.4" y1="86" x2="36.7" y2="81.7" stroke="#7a48bc" stroke-width="1.5"/><line x1="48" y1="90.3" x2="46.7" y2="84.7" stroke="#b4b4b4" stroke-width="1.5"/><line x1="46.7" y1="84.7" x2="45.4" y2="79.1" stroke="#7a48bc" stroke-width="1.5"/><line x1="48" y1="90.3" x2="54.8" y2="85.4" stroke="#b4b4b4" stroke-width="1.5"/><line x1="54.8" y1="85.4" x2="61.6" y2="80.6" stroke="#7a48bc" stroke-width="1.5"/><line x1="48" y1="90.3" x2="41.2" y2="95" stroke="#b4b4b4" stroke-width="1.5"/><line x1="41.2" y1="95" x2="34.4" y2="99.8" stroke="#7a48bc" stroke-width="1.5"/><line x1="48" y1="90.3" x2="50" y2="96.2" stroke="#b4b4b4" stroke-width="1.5"/><line x1="50" y1="96.2" x2="52.1" y2="102.1" stroke="#7a48bc" stroke-width="1.5"/><line x1="48" y1="90.3" x2="52.9" y2="94.4" stroke="#b4b4b4" stroke-width="1.5"/><line x1="52.9" y1="94.4" x2="57.8" y2="98.6" stroke="#7a48bc" stroke-width="1.5"/><circle cx="11.9" cy="81.7" r="3.2" fill="url(#gp)"/><circle cx="19.6" cy="79.3" r="3" fill="url(#gp)"/><circle cx="36.7" cy="81.7" r="3.2" fill="url(#gp)"/><circle cx="45.4" cy="79.1" r="3" fill="url(#gp)"/><circle cx="61.6" cy="80.6" r="3.2" fill="url(#gp)"/><circle cx="9.6" cy="100.1" r="3.3" fill="url(#gp)"/><circle cx="25.1" cy="103.2" r="3.2" fill="url(#gp)"/><circle cx="34.4" cy="99.8" r="3.2" fill="url(#gp)"/><circle cx="52.1" cy="102.1" r="3.3" fill="url(#gp)"/><circle cx="57.8" cy="98.6" r="3.2" fill="url(#gp)"/><circle cx="22.3" cy="90.8" r="3.4" fill="url(#gg)"/><circle cx="48" cy="90.3" r="3.4" fill="url(#gg)"/></g><g id="fb"><polygon points="12.2,160.1 55.6,160.6 66.1,203 23.5,203.2" fill="none" stroke="#1a1a1a" stroke-width="0.75"/><polygon points="23.5,164.9 66.9,165.4 77.4,207.8 34.8,208" fill="none" stroke="#1a1a1a" stroke-width="0.75"/><polyline points="12.2,160.1 23.5,164.9" fill="none" stroke="#1a1a1a" stroke-width="0.75"/><polyline points="55.6,160.6 66.9,165.4" fill="none" stroke="#1a1a1a" stroke-width="0.75"/><polyline points="66.1,203 77.4,207.8" fill="none" stroke="#1a1a1a" stroke-width="0.75"/><polyline points="23.5,203.2 34.8,208" fill="none" stroke="#1a1a1a" stroke-width="0.75"/></g><g id="ab"><line x1="26.6" y1="182.5" x2="20.8" y2="178.2" stroke="#b4b4b4" stroke-width="1.5"/><line x1="20.8" y1="178.2" x2="15" y2="173.8" stroke="#7a48bc" stroke-width="1.5"/><line x1="26.6" y1="182.5" x2="24.6" y2="176.2" stroke="#b4b4b4" stroke-width="1.5"/><line x1="24.6" y1="176.2" x2="22.6" y2="170" stroke="#7a48bc" stroke-width="1.5"/><line x1="26.6" y1="182.5" x2="33.4" y2="177.6" stroke="#b4b4b4" stroke-width="1.5"/><line x1="33.4" y1="177.6" x2="40.1" y2="172.6" stroke="#7a48bc" stroke-width="1.5"/><line x1="26.6" y1="182.5" x2="20.2" y2="187.7" stroke="#b4b4b4" stroke-width="1.5"/><line x1="20.2" y1="187.7" x2="13.8" y2="192.8" stroke="#7a48bc" stroke-width="1.5"/><line x1="26.6" y1="182.5" x2="28.4" y2="188.6" stroke="#b4b4b4" stroke-width="1.5"/><line x1="28.4" y1="188.6" x2="30.1" y2="194.6" stroke="#7a48bc" stroke-width="1.5"/><line x1="26.6" y1="182.5" x2="32.8" y2="187.6" stroke="#b4b4b4" stroke-width="1.5"/><line x1="32.8" y1="187.6" x2="38.9" y2="192.6" stroke="#7a48bc" stroke-width="1.5"/><line x1="52.3" y1="181.3" x2="46.2" y2="176.9" stroke="#b4b4b4" stroke-width="1.5"/><line x1="46.2" y1="176.9" x2="40.1" y2="172.6" stroke="#7a48bc" stroke-width="1.5"/><line x1="52.3" y1="181.3" x2="50.6" y2="175.1" stroke="#b4b4b4" stroke-width="1.5"/><line x1="50.6" y1="175.1" x2="48.9" y2="168.8" stroke="#7a48bc" stroke-width="1.5"/><line x1="52.3" y1="181.3" x2="59.4" y2="176.3" stroke="#b4b4b4" stroke-width="1.5"/><line x1="59.4" y1="176.3" x2="66.4" y2="171.3" stroke="#7a48bc" stroke-width="1.5"/><line x1="52.3" y1="181.3" x2="45.6" y2="186.9" stroke="#b4b4b4" stroke-width="1.5"/><line x1="45.6" y1="186.9" x2="38.9" y2="192.6" stroke="#7a48bc" stroke-width="1.5"/><line x1="52.3" y1="181.3" x2="54.3" y2="187.6" stroke="#b4b4b4" stroke-width="1.5"/><line x1="54.3" y1="187.6" x2="56.4" y2="193.9" stroke="#7a48bc" stroke-width="1.5"/><line x1="52.3" y1="181.3" x2="57.5" y2="185.7" stroke="#b4b4b4" stroke-width="1.5"/><line x1="57.5" y1="185.7" x2="62.7" y2="190.1" stroke="#7a48bc" stroke-width="1.5"/><circle cx="15" cy="173.8" r="3.4" fill="url(#gp)"/><circle cx="22.6" cy="170" r="3.4" fill="url(#gp)"/><circle cx="40.1" cy="172.6" r="3.4" fill="url(#gp)"/><circle cx="48.9" cy="168.8" r="3.4" fill="url(#gp)"/><circle cx="66.4" cy="171.3" r="3.4" fill="url(#gp)"/><circle cx="13.8" cy="192.8" r="3.4" fill="url(#gp)"/><circle cx="30.1" cy="194.6" r="3.4" fill="url(#gp)"/><circle cx="38.9" cy="192.6" r="3.4" fill="url(#gp)"/><circle cx="56.4" cy="193.9" r="3.4" fill="url(#gp)"/><circle cx="62.7" cy="190.1" r="3.4" fill="url(#gp)"/><circle cx="26.6" cy="182.5" r="3.1" fill="url(#gg)"/><circle cx="52.3" cy="181.3" r="3.1" fill="url(#gg)"/></g></defs><g transform="translate(0,0)"><use href="#fa"/><use href="#aa"/><circle cx="22.1" cy="81.8" r="2.5" fill="url(#gr)"/><circle cx="15.5" cy="86.9" r="2.1" fill="url(#gr)"/><circle cx="26.9" cy="91.1" r="1.8" fill="url(#gr)"/><circle cx="7.8" cy="97.7" r="2.3" fill="url(#gr)"/><circle cx="21.5" cy="98.9" r="2.3" fill="url(#gr)"/><circle cx="23.9" cy="107.2" r="2.1" fill="url(#gr)"/><circle cx="29.3" cy="103.6" r="2.1" fill="url(#gr)"/><line x1="38.5" y1="79.2" x2="46.2" y2="74.9" stroke="#ee1214" stroke-width="2.9"/><polygon points="50.2,72.6 47.9,77.8 44.5,71.9" fill="#ee1214"/><circle cx="48.5" cy="83.3" r="2.1" fill="url(#gr)"/><circle cx="64.6" cy="83.3" r="2.5" fill="url(#gr)"/><circle cx="43.7" cy="90.5" r="1.8" fill="url(#gr)"/><circle cx="54.5" cy="94.7" r="2.1" fill="url(#gr)"/><circle cx="48.5" cy="100.7" r="2.1" fill="url(#gr)"/></g><g transform="translate(85,0)"><use href="#fa"/><use href="#aa"/><line x1="19.7" y1="77" x2="19.7" y2="72.9" stroke="#ee1214" stroke-width="2.2"/><polygon points="19.7,69.5 22.4,72.9 17,72.9" fill="#ee1214"/><line x1="15.5" y1="84" x2="20.9" y2="87.5" stroke="#ee1214" stroke-width="2.2"/><line x1="16.7" y1="98.9" x2="23.3" y2="101.9" stroke="#ee1214" stroke-width="2.2"/><line x1="9.6" y1="103.5" x2="9.6" y2="107.6" stroke="#ee1214" stroke-width="2.2"/><polygon points="9.6,111 6.9,107.6 12.3,107.6" fill="#ee1214"/><circle cx="47.3" cy="90.5" r="2.8" fill="url(#gr)"/><line x1="49.1" y1="81" x2="53.3" y2="84" stroke="#ee1214" stroke-width="2.2"/><line x1="61.6" y1="78" x2="61.6" y2="74.4" stroke="#ee1214" stroke-width="2.2"/><polygon points="61.6,71 64.3,74.4 58.9,74.4" fill="#ee1214"/><line x1="50.9" y1="93.5" x2="55.1" y2="97.7" stroke="#ee1214" stroke-width="2.2"/><line x1="52.1" y1="104.5" x2="52.1" y2="108.1" stroke="#ee1214" stroke-width="2.2"/><polygon points="52.1,111.5 49.4,108.1 54.8,108.1" fill="#ee1214"/></g><g transform="translate(167,0)"><use href="#fa"/><use href="#aa"/><circle cx="11.9" cy="76.3" r="2.6" fill="url(#gr)"/><circle cx="9.6" cy="86.5" r="1.8" fill="url(#gr)"/><circle cx="16.1" cy="82.9" r="1.7" fill="url(#gr)"/><line x1="11.9" y1="99" x2="16.9" y2="94.9" stroke="#ee1214" stroke-width="2.0"/><polygon points="19.5,92.8 18.5,97 15.2,92.9" fill="#ee1214"/><circle cx="26.9" cy="91.9" r="2.6" fill="url(#gr)"/><circle cx="25.1" cy="109.2" r="2.6" fill="url(#gr)"/><circle cx="37.2" cy="79.9" r="1.8" fill="url(#gr)"/><circle cx="45.5" cy="74" r="2.6" fill="url(#gr)"/><line x1="58.7" y1="82.9" x2="52.7" y2="86.1" stroke="#ee1214" stroke-width="2.4"/><polygon points="49.3,88 51.3,83.5 54.2,88.8" fill="#ee1214"/><circle cx="42.5" cy="90.1" r="2.1" fill="url(#gr)"/><line x1="55.1" y1="100.8" x2="61.6" y2="96.3" stroke="#ee1214" stroke-width="2.4"/><polygon points="64.8,94.1 63.3,98.8 59.9,93.8" fill="#ee1214"/><circle cx="58.1" cy="104.4" r="2.6" fill="url(#gr)"/></g><g transform="translate(251,0)"><use href="#fa"/><use href="#aa"/><line x1="13.7" y1="84.1" x2="16.7" y2="88.3" stroke="#ee1214" stroke-width="2.4"/><line x1="26.9" y1="74" x2="32.8" y2="79.9" stroke="#ee1214" stroke-width="2.4"/><circle cx="26.9" cy="74" r="2.1" fill="url(#gr)"/><circle cx="26.9" cy="90.7" r="1.9" fill="url(#gr)"/><circle cx="10.1" cy="99.6" r="2.3" fill="url(#gr)"/><circle cx="21.5" cy="97.8" r="2.3" fill="url(#gr)"/><circle cx="38.2" cy="103.2" r="2.1" fill="url(#gr)"/><circle cx="44.9" cy="90.7" r="2.6" fill="url(#gr)"/><circle cx="49.1" cy="83.5" r="2.3" fill="url(#gr)"/><circle cx="54.5" cy="93.7" r="2.1" fill="url(#gr)"/><circle cx="53.3" cy="101.4" r="2.6" fill="url(#gr)"/><line x1="37.2" y1="102" x2="43.1" y2="106.2" stroke="#ee1214" stroke-width="2.4"/><circle cx="43.1" cy="106.2" r="1.9" fill="url(#gr)"/></g><g transform="translate(0,0)"><use href="#fb"/><use href="#ab"/><line x1="22.6" y1="170" x2="29.9" y2="159.7" stroke="#ee1214" stroke-width="2.4"/><polygon points="32.2,156.4 32.3,161.4 27.4,157.9" fill="#ee1214"/><line x1="13.8" y1="192.8" x2="7.1" y2="204.9" stroke="#ee1214" stroke-width="2.4"/><polygon points="5.2,208.4 4.5,203.4 9.8,206.3" fill="#ee1214"/><line x1="66.4" y1="171.3" x2="73.6" y2="160" stroke="#ee1214" stroke-width="2.4"/><polygon points="75.8,156.6 76.2,161.6 71.1,158.4" fill="#ee1214"/><line x1="56.4" y1="193.9" x2="50.6" y2="204.3" stroke="#ee1214" stroke-width="2.4"/><polygon points="48.6,207.8 47.9,202.8 53.2,205.8" fill="#ee1214"/><line x1="17.4" y1="176.6" x2="21.2" y2="181.8" stroke="#ee1214" stroke-width="2.8"/><polygon points="23.2,184.6 18.9,183.5 23.5,180.2" fill="#ee1214"/><circle cx="27.4" cy="189.5" r="2.2" fill="url(#gr)"/><circle cx="52.7" cy="174.1" r="2.1" fill="url(#gr)"/><line x1="58.7" y1="183" x2="61.7" y2="186.6" stroke="#ee1214" stroke-width="2.4" stroke-linecap="round"/><circle cx="56.9" cy="181.9" r="2" fill="url(#gr)"/><circle cx="42" cy="187.2" r="2" fill="url(#gr)"/><circle cx="39" cy="177.7" r="1.7" fill="url(#gr)"/></g><g transform="translate(84.8,0)"><use href="#fb"/><use href="#ab"/><circle cx="28.3" cy="171.1" r="2.6" fill="url(#gr)"/><line x1="18.7" y1="177.1" x2="27.1" y2="189.6" stroke="#ee1214" stroke-width="2.8" stroke-linecap="round"/><circle cx="30.7" cy="183.7" r="2.1" fill="url(#gr)"/><circle cx="8" cy="192.6" r="2.6" fill="url(#gr)"/><line x1="37.2" y1="195.6" x2="35.6" y2="199.3" stroke="#ee1214" stroke-width="2.4"/><polygon points="34.2,202.4 33,198.2 38.1,200.4" fill="#ee1214"/><circle cx="42.6" cy="168.7" r="1.9" fill="url(#gr)"/><line x1="45.6" y1="162.8" x2="42.6" y2="169.3" stroke="#ee1214" stroke-width="2.2" stroke-linecap="round"/><circle cx="71.8" cy="171.7" r="2.6" fill="url(#gr)"/><line x1="51.5" y1="172.9" x2="61.1" y2="186.6" stroke="#ee1214" stroke-width="2.8" stroke-linecap="round"/><circle cx="49.2" cy="181.9" r="2.1" fill="url(#gr)"/><circle cx="51.5" cy="193.2" r="2.6" fill="url(#gr)"/></g><g transform="translate(168.8,0)"><use href="#fb"/><use href="#ab"/><line x1="17" y1="173.5" x2="9" y2="171" stroke="#ee1214" stroke-width="2.4" stroke-linecap="round"/><circle cx="10.4" cy="171.1" r="2.6" fill="url(#gr)"/><line x1="26.5" y1="171.7" x2="33.1" y2="171.7" stroke="#ee1214" stroke-width="2.4" stroke-linecap="round"/><circle cx="31.9" cy="171.7" r="2.8" fill="url(#gr)"/><circle cx="22.3" cy="182.5" r="2.8" fill="url(#gr)"/><line x1="10.4" y1="192.6" x2="3.2" y2="192.6" stroke="#ee1214" stroke-width="2.4" stroke-linecap="round"/><circle cx="5" cy="192.6" r="2.8" fill="url(#gr)"/><circle cx="33.1" cy="189" r="2.6" fill="url(#gr)"/><circle cx="35.4" cy="196.8" r="2.6" fill="url(#gr)"/><circle cx="43.8" cy="166.9" r="2.6" fill="url(#gr)"/><circle cx="46.8" cy="174.7" r="2.3" fill="url(#gr)"/><line x1="68.9" y1="171.7" x2="76" y2="171.7" stroke="#ee1214" stroke-width="2.4" stroke-linecap="round"/><circle cx="74.8" cy="171.7" r="2.8" fill="url(#gr)"/><circle cx="57.5" cy="181.9" r="2.6" fill="url(#gr)"/><line x1="54.5" y1="193.2" x2="47.4" y2="193.2" stroke="#ee1214" stroke-width="2.4" stroke-linecap="round"/><circle cx="48.6" cy="193.2" r="2.8" fill="url(#gr)"/><circle cx="68.9" cy="193.2" r="2.6" fill="url(#gr)"/></g><g transform="translate(254.4,0)"><use href="#fb"/><use href="#ab"/><line x1="38" y1="171.3" x2="33" y2="171.3" stroke="#ee1214" stroke-width="2.4"/><polygon points="29.2,171.3 33,168.3 33,174.3" fill="#ee1214"/><line x1="40.5" y1="192.6" x2="45.7" y2="192.6" stroke="#ee1214" stroke-width="2.4"/><polygon points="49.5,192.6 45.7,195.6 45.7,189.6" fill="#ee1214"/><circle cx="13.4" cy="173.5" r="2.9" fill="url(#gr)"/><circle cx="46" cy="169.3" r="2.7" fill="url(#gr)"/><circle cx="33.1" cy="195.6" r="2.4" fill="url(#gr)"/><circle cx="65.7" cy="190.8" r="2.5" fill="url(#gr)"/></g></svg></body></html>
